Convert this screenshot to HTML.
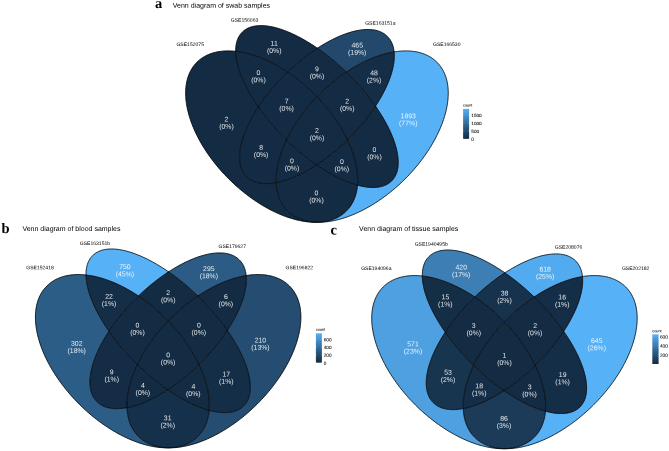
<!DOCTYPE html>
<html><head><meta charset="utf-8"><title>Venn diagrams</title>
<style>
html,body{margin:0;padding:0;background:#fff;}
body{width:669px;height:451px;overflow:hidden;}
svg{display:block;font-family:"Liberation Sans",Arial,sans-serif;text-rendering:geometricPrecision;}
</style></head><body>
<svg width="669" height="451" viewBox="0 0 669 451">
<rect width="669" height="451" fill="#fff"/>
<g>
<path d="M316.57,222.27L314.24,222.27L311.87,222.19L309.47,222.02L307.02,221.77L304.54,221.44L302.03,221.02L299.48,220.52L296.91,219.93L294.31,219.26L291.70,218.51L289.06,217.68L286.40,216.77L283.73,215.79L281.05,214.72L278.36,213.57L275.67,212.35L272.96,211.06L270.26,209.69L267.56,208.25L264.86,206.74L262.17,205.16L259.49,203.51L256.82,201.80L254.17,200.02L251.53,198.18L248.92,196.27L246.32,194.31L243.75,192.30L241.21,190.22L238.70,188.10L236.22,185.92L233.77,183.70L231.37,181.43L229.00,179.11L226.67,176.75L224.39,174.35L222.16,171.92L219.97,169.45L217.84,166.95L215.76,164.42L213.73,161.86L211.76,159.27L209.86,156.67L208.01,154.04L206.22,151.40L204.50,148.74L202.85,146.07L201.26,143.39L199.74,140.70L198.30,138.01L196.92,135.32L195.62,132.63L194.40,129.94L193.25,127.26L192.18,124.59L191.18,121.93L190.27,119.29L189.44,116.66L188.68,114.05L188.01,111.47L187.43,108.91L186.92,106.37L186.50,103.87L186.17,101.40L185.91,98.96L185.75,96.56L185.66,94.20L185.67,91.89L185.75,89.61L185.92,87.38L186.18,85.21L186.52,83.08L186.95,81.00L187.45,78.98L188.05,77.02L188.72,75.11L189.48,73.27L190.31,71.49L191.23,69.77L192.23,68.12L193.30,66.53L194.46,65.02L195.68,63.58L196.99,62.20L198.37,60.90L199.82,59.68L201.34,58.53L202.93,57.46L204.58,56.47L206.31,55.56L208.10,54.72L209.95,53.97L211.86,53.30L213.83,52.71L215.86,52.20L217.95,51.78L220.08,51.44L222.27,51.18L224.51,51.01L226.79,50.93L229.12,50.92L231.49,51.01L233.89,51.17L235.70,51.36L235.74,52.80L235.87,54.73L236.08,56.71L236.36,58.73L236.73,60.81L237.18,62.93L237.71,65.09L238.31,67.30L238.99,69.54L239.75,71.82L240.59,74.13L241.50,76.48L242.49,78.85L243.54,81.26L244.68,83.68L245.88,86.13L247.15,88.60L248.49,91.09L249.90,93.60L251.38,96.11L252.92,98.64L254.52,101.17L256.18,103.71L257.91,106.25L258.40,106.95L258.00,107.55L256.46,109.97L254.97,112.39L253.55,114.80L252.19,117.20L250.89,119.59L249.66,121.97L248.49,124.34L247.40,126.68L246.37,129.01L245.41,131.31L244.52,133.59L243.70,135.84L242.96,138.07L242.28,140.26L241.68,142.42L241.16,144.54L240.71,146.63L240.34,148.68L240.04,150.68L239.82,152.65L239.67,154.56L239.60,156.43L239.61,158.25L239.69,160.02L239.85,161.73L240.08,163.40L240.39,165.00L240.78,166.55L241.24,168.04L241.78,169.46L242.39,170.83L243.07,172.13L243.83,173.37L244.66,174.54L245.56,175.65L246.53,176.68L247.57,177.65L248.68,178.55L249.85,179.37L251.09,180.12L252.40,180.81L253.77,181.41L255.21,181.95L256.70,182.41L258.25,182.79L259.87,183.10L261.53,183.33L263.26,183.49L265.03,183.58L266.86,183.58L268.73,183.51L270.66,183.37L272.63,183.14L274.64,182.85L276.25,182.55L276.29,183.58L276.46,185.81L276.72,187.99L277.06,190.12L277.49,192.19L277.99,194.21L278.59,196.18L279.26,198.08L280.02,199.93L280.85,201.71L281.77,203.43L282.77,205.08L283.84,206.66L285.00,208.18L286.22,209.62L287.53,210.99L288.91,212.29L290.36,213.52L291.88,214.66L293.47,215.73L295.12,216.73L296.85,217.64L298.64,218.47L300.49,219.23L302.40,219.90L304.37,220.49L306.40,220.99L308.49,221.42L310.62,221.76L312.81,222.01L315.05,222.18L316.95,222.26Z" fill="#132B43" stroke="#132B43" stroke-width="0.25" stroke-linejoin="round"/>
<path d="M235.69,50.92L235.72,49.10L235.83,47.34L236.02,45.64L236.29,43.99L236.64,42.41L237.07,40.89L237.58,39.44L238.17,38.05L238.84,36.73L239.58,35.47L240.40,34.29L241.29,33.18L242.26,32.14L243.30,31.18L244.42,30.29L245.60,29.47L246.86,28.73L248.19,28.07L249.58,27.49L251.04,26.98L252.57,26.55L254.15,26.20L255.81,25.93L257.52,25.74L259.29,25.63L261.11,25.60L263.00,25.65L264.93,25.78L266.92,25.99L268.95,26.27L271.04,26.64L273.17,27.09L275.34,27.61L277.55,28.21L279.80,28.89L282.09,29.65L284.41,30.48L286.77,31.39L289.15,32.37L291.57,33.42L294.00,34.55L296.46,35.75L298.94,37.02L301.44,38.35L303.96,39.76L306.48,41.22L309.02,42.76L311.56,44.36L314.11,46.01L316.66,47.73L317.37,48.22L315.54,49.42L313.11,51.07L310.69,52.78L308.27,54.54L305.86,56.35L303.46,58.21L301.07,60.12L298.70,62.08L296.35,64.07L294.02,66.11L291.71,68.19L289.42,70.31L287.56,72.09L286.54,71.40L283.87,69.69L281.19,68.04L278.50,66.46L275.80,64.95L273.10,63.51L270.40,62.14L267.69,60.84L265.00,59.62L262.31,58.48L259.63,57.41L256.96,56.42L254.30,55.51L251.66,54.68L249.05,53.93L246.45,53.27L243.88,52.68L241.33,52.18L238.82,51.76L236.34,51.42L235.70,51.36Z" fill="#132C44" stroke="#132C44" stroke-width="0.25" stroke-linejoin="round"/>
<path d="M317.97,47.82L320.40,46.29L322.83,44.81L325.25,43.39L327.66,42.03L330.06,40.74L332.45,39.51L334.82,38.35L337.18,37.26L339.51,36.24L341.82,35.28L344.11,34.39L346.37,33.58L348.61,32.84L350.81,32.17L352.98,31.57L355.11,31.05L357.20,30.60L359.26,30.23L361.27,29.93L363.24,29.71L365.17,29.56L367.04,29.49L368.87,29.50L370.64,29.58L372.37,29.74L374.03,29.97L375.65,30.28L377.20,30.67L378.69,31.13L380.13,31.66L381.50,32.27L382.81,32.95L384.05,33.71L385.22,34.53L386.33,35.43L387.37,36.39L388.34,37.43L389.24,38.53L390.07,39.71L390.83,40.94L391.51,42.25L392.12,43.61L392.66,45.04L393.12,46.53L393.51,48.07L393.82,49.68L394.05,51.34L394.11,51.92L392.57,52.18L390.02,52.68L387.45,53.27L384.86,53.93L382.24,54.68L379.60,55.51L376.94,56.42L374.27,57.41L371.59,58.48L368.90,59.62L366.21,60.84L363.50,62.14L360.80,63.51L358.10,64.95L355.40,66.46L352.71,68.04L350.03,69.69L347.36,71.40L346.34,72.09L344.21,70.05L341.79,67.79L339.35,65.58L336.88,63.41L334.40,61.28L331.90,59.19L329.38,57.16L326.85,55.17L324.31,53.23L321.77,51.34L319.22,49.51L317.37,48.22Z" fill="#22496B" stroke="#22496B" stroke-width="0.25" stroke-linejoin="round"/>
<path d="M395.08,51.76L397.56,51.42L400.01,51.17L402.41,51.01L404.78,50.92L407.11,50.93L409.39,51.01L411.63,51.18L413.82,51.44L415.95,51.78L418.04,52.20L420.07,52.71L422.04,53.30L423.95,53.97L425.80,54.72L427.59,55.56L429.32,56.47L430.97,57.46L432.56,58.53L434.08,59.68L435.53,60.90L436.91,62.20L438.22,63.58L439.44,65.02L440.60,66.53L441.67,68.12L442.67,69.77L443.59,71.49L444.42,73.27L445.18,75.11L445.85,77.02L446.45,78.98L446.95,81.00L447.38,83.08L447.72,85.21L447.98,87.38L448.15,89.61L448.23,91.89L448.24,94.20L448.15,96.56L447.99,98.96L447.73,101.40L447.40,103.87L446.98,106.37L446.47,108.91L445.89,111.47L445.21,114.05L444.46,116.66L443.63,119.29L442.72,121.93L441.72,124.59L440.65,127.26L439.50,129.94L438.28,132.63L436.98,135.32L435.60,138.01L434.16,140.70L432.64,143.39L431.05,146.07L429.40,148.74L427.68,151.40L425.89,154.04L424.04,156.67L422.14,159.27L420.17,161.86L418.14,164.42L416.06,166.95L413.93,169.45L411.74,171.92L409.51,174.35L407.23,176.75L404.90,179.11L402.53,181.43L400.13,183.70L397.68,185.92L395.20,188.10L392.69,190.22L390.15,192.30L387.58,194.31L384.98,196.27L382.37,198.18L379.73,200.02L377.08,201.80L374.41,203.51L371.73,205.16L369.04,206.74L366.34,208.25L363.64,209.69L360.94,211.06L358.23,212.35L355.54,213.57L352.85,214.72L350.17,215.79L347.50,216.77L344.84,217.68L342.20,218.51L339.58,219.26L336.99,219.93L334.42,220.52L331.87,221.02L329.36,221.44L326.88,221.77L324.43,222.02L322.03,222.19L319.66,222.27L317.33,222.27L316.95,222.26L318.85,222.18L321.09,222.01L323.28,221.76L325.41,221.42L327.50,220.99L329.53,220.49L331.50,219.90L333.41,219.23L335.26,218.47L337.05,217.64L338.78,216.73L340.43,215.73L342.02,214.66L343.54,213.52L344.99,212.29L346.37,210.99L347.68,209.62L348.90,208.18L350.06,206.66L351.13,205.08L352.13,203.43L353.05,201.71L353.88,199.93L354.64,198.08L355.31,196.18L355.91,194.21L356.41,192.19L356.84,190.12L357.18,187.99L357.44,185.81L357.49,185.17L358.56,185.47L360.73,185.99L362.86,186.44L364.95,186.80L366.98,187.09L368.97,187.30L370.90,187.43L372.79,187.48L374.61,187.45L376.38,187.33L378.09,187.14L379.75,186.87L381.33,186.52L382.86,186.10L384.32,185.59L385.71,185.00L387.04,184.34L388.30,183.60L389.48,182.79L390.60,181.90L391.64,180.93L392.61,179.89L393.50,178.78L394.32,177.60L395.06,176.35L395.73,175.03L396.32,173.64L396.83,172.19L397.26,170.67L397.61,169.08L397.88,167.44L398.07,165.73L398.18,163.97L398.21,162.15L398.16,160.28L398.03,158.35L397.82,156.37L397.54,154.34L397.17,152.27L396.72,150.15L396.19,147.98L395.59,145.78L394.91,143.54L394.15,141.26L393.31,138.94L392.40,136.60L391.41,134.22L390.36,131.82L389.22,129.39L388.02,126.94L386.75,124.47L385.41,121.98L384.00,119.48L382.52,116.96L380.98,114.44L379.38,111.90L377.72,109.36L375.99,106.82L375.50,106.12L375.90,105.52L377.44,103.10L378.93,100.69L380.35,98.28L381.71,95.87L383.01,93.48L384.24,91.10L385.41,88.74L386.50,86.39L387.53,84.07L388.49,81.76L389.38,79.48L390.20,77.23L390.94,75.01L391.62,72.81L392.22,70.66L392.74,68.53L393.19,66.44L393.56,64.40L393.86,62.39L394.08,60.43L394.23,58.51L394.30,56.65L394.29,54.83L394.21,53.06L394.11,51.92Z" fill="#56B1F7" stroke="#56B1F7" stroke-width="0.25" stroke-linejoin="round"/>
<path d="M238.82,51.76L241.33,52.18L243.88,52.68L246.45,53.27L249.05,53.93L251.66,54.68L254.30,55.51L256.96,56.42L259.63,57.41L262.31,58.48L265.00,59.62L267.69,60.84L270.40,62.14L273.10,63.51L275.80,64.95L278.50,66.46L281.19,68.04L283.87,69.69L286.54,71.40L287.56,72.09L287.17,72.47L284.94,74.65L282.74,76.87L280.58,79.12L278.45,81.40L276.37,83.70L274.32,86.02L272.31,88.36L270.35,90.72L268.43,93.10L266.56,95.49L264.74,97.89L262.98,100.30L261.26,102.72L259.60,105.13L258.40,106.95L257.91,106.25L256.18,103.71L254.52,101.17L252.92,98.64L251.38,96.11L249.90,93.60L248.49,91.09L247.15,88.60L245.88,86.13L244.68,83.68L243.54,81.26L242.49,78.85L241.50,76.48L240.59,74.13L239.75,71.82L238.99,69.54L238.31,67.30L237.71,65.09L237.18,62.93L236.73,60.81L236.36,58.73L236.08,56.71L235.87,54.73L235.74,52.80L235.70,51.36L236.34,51.42Z" fill="#132B43" stroke="#132B43" stroke-width="0.25" stroke-linejoin="round"/>
<path d="M274.64,182.85L272.63,183.14L270.66,183.37L268.73,183.51L266.86,183.58L265.03,183.58L263.26,183.49L261.53,183.33L259.87,183.10L258.25,182.79L256.70,182.41L255.21,181.95L253.77,181.41L252.40,180.81L251.09,180.12L249.85,179.37L248.68,178.55L247.57,177.65L246.53,176.68L245.56,175.65L244.66,174.54L243.83,173.37L243.07,172.13L242.39,170.83L241.78,169.46L241.24,168.04L240.78,166.55L240.39,165.00L240.08,163.40L239.85,161.73L239.69,160.02L239.61,158.25L239.60,156.43L239.67,154.56L239.82,152.65L240.04,150.68L240.34,148.68L240.71,146.63L241.16,144.54L241.68,142.42L242.28,140.26L242.96,138.07L243.70,135.84L244.52,133.59L245.41,131.31L246.37,129.01L247.40,126.68L248.49,124.34L249.66,121.97L250.89,119.59L252.19,117.20L253.55,114.80L254.97,112.39L256.46,109.97L258.00,107.55L258.40,106.95L259.69,108.80L261.53,111.34L263.42,113.87L265.37,116.40L267.37,118.92L269.42,121.42L271.51,123.92L273.65,126.39L275.83,128.85L278.05,131.28L280.31,133.69L282.61,136.07L284.94,138.42L286.47,139.93L286.16,140.57L284.94,143.25L283.79,145.93L282.72,148.60L281.72,151.26L280.81,153.91L279.98,156.54L279.22,159.14L278.55,161.73L277.97,164.29L277.46,166.82L277.04,169.33L276.71,171.80L276.45,174.23L276.29,176.63L276.20,178.99L276.21,181.31L276.25,182.55Z" fill="#132B44" stroke="#132B44" stroke-width="0.25" stroke-linejoin="round"/>
<path d="M357.44,185.81L357.18,187.99L356.84,190.12L356.41,192.19L355.91,194.21L355.31,196.18L354.64,198.08L353.88,199.93L353.05,201.71L352.13,203.43L351.13,205.08L350.06,206.66L348.90,208.18L347.68,209.62L346.37,210.99L344.99,212.29L343.54,213.52L342.02,214.66L340.43,215.73L338.78,216.73L337.05,217.64L335.26,218.47L333.41,219.23L331.50,219.90L329.53,220.49L327.50,220.99L325.41,221.42L323.28,221.76L321.09,222.01L318.85,222.18L316.95,222.26L315.05,222.18L312.81,222.01L310.62,221.76L308.49,221.42L306.40,220.99L304.37,220.49L302.40,219.90L300.49,219.23L298.64,218.47L296.85,217.64L295.12,216.73L293.47,215.73L291.88,214.66L290.36,213.52L288.91,212.29L287.53,210.99L286.22,209.62L285.00,208.18L283.84,206.66L282.77,205.08L281.77,203.43L280.85,201.71L280.02,199.93L279.26,198.08L278.59,196.18L277.99,194.21L277.49,192.19L277.06,190.12L276.72,187.99L276.46,185.81L276.29,183.58L276.25,182.55L276.70,182.47L278.79,182.03L280.92,181.50L283.09,180.91L285.29,180.24L287.53,179.50L289.79,178.68L292.08,177.80L294.39,176.84L296.72,175.82L299.08,174.72L301.45,173.56L303.84,172.33L306.24,171.04L308.65,169.69L311.07,168.27L313.50,166.79L315.93,165.25L316.53,164.86L317.24,165.34L319.79,167.06L322.34,168.72L324.88,170.32L327.42,171.85L329.94,173.32L332.46,174.72L334.96,176.06L337.44,177.33L339.90,178.53L342.33,179.65L344.75,180.71L347.13,181.69L349.49,182.60L351.81,183.43L354.10,184.18L356.35,184.86L357.49,185.17Z" fill="#132B43" stroke="#132B43" stroke-width="0.25" stroke-linejoin="round"/>
<path d="M289.42,70.31L291.71,68.19L294.02,66.11L296.35,64.07L298.70,62.08L301.07,60.12L303.46,58.21L305.86,56.35L308.27,54.54L310.69,52.78L313.11,51.07L315.54,49.42L317.37,48.22L319.22,49.51L321.77,51.34L324.31,53.23L326.85,55.17L329.38,57.16L331.90,59.19L334.40,61.28L336.88,63.41L339.35,65.58L341.79,67.79L344.21,70.05L346.34,72.09L344.71,73.18L342.07,75.02L339.46,76.92L336.86,78.88L334.29,80.90L331.75,82.97L329.24,85.10L326.76,87.27L324.31,89.50L321.91,91.77L319.54,94.09L317.21,96.44L316.95,96.72L316.69,96.44L314.36,94.09L311.99,91.77L309.59,89.50L307.14,87.27L304.66,85.10L302.15,82.97L299.61,80.90L297.04,78.88L294.44,76.92L291.83,75.02L289.19,73.18L287.56,72.09Z" fill="#132C44" stroke="#132C44" stroke-width="0.25" stroke-linejoin="round"/>
<path d="M375.99,106.82L377.72,109.36L379.38,111.90L380.98,114.44L382.52,116.96L384.00,119.48L385.41,121.98L386.75,124.47L388.02,126.94L389.22,129.39L390.36,131.82L391.41,134.22L392.40,136.60L393.31,138.94L394.15,141.26L394.91,143.54L395.59,145.78L396.19,147.98L396.72,150.15L397.17,152.27L397.54,154.34L397.82,156.37L398.03,158.35L398.16,160.28L398.21,162.15L398.18,163.97L398.07,165.73L397.88,167.44L397.61,169.08L397.26,170.67L396.83,172.19L396.32,173.64L395.73,175.03L395.06,176.35L394.32,177.60L393.50,178.78L392.61,179.89L391.64,180.93L390.60,181.90L389.48,182.79L388.30,183.60L387.04,184.34L385.71,185.00L384.32,185.59L382.86,186.10L381.33,186.52L379.75,186.87L378.09,187.14L376.38,187.33L374.61,187.45L372.79,187.48L370.90,187.43L368.97,187.30L366.98,187.09L364.95,186.80L362.86,186.44L360.73,185.99L358.56,185.47L357.49,185.17L357.61,183.58L357.69,181.31L357.70,178.99L357.61,176.63L357.45,174.23L357.19,171.80L356.86,169.33L356.44,166.82L355.93,164.29L355.35,161.73L354.68,159.14L353.92,156.54L353.09,153.91L352.18,151.26L351.18,148.60L350.11,145.93L348.96,143.25L347.74,140.57L347.43,139.93L348.96,138.42L351.16,136.20L353.32,133.95L355.45,131.68L357.53,129.38L359.58,127.06L361.59,124.71L363.55,122.35L365.47,119.98L367.34,117.59L369.16,115.19L370.92,112.78L372.64,110.36L374.30,107.94L375.50,106.12Z" fill="#132B43" stroke="#132B43" stroke-width="0.25" stroke-linejoin="round"/>
<path d="M394.29,54.83L394.30,56.65L394.23,58.51L394.08,60.43L393.86,62.39L393.56,64.40L393.19,66.44L392.74,68.53L392.22,70.66L391.62,72.81L390.94,75.01L390.20,77.23L389.38,79.48L388.49,81.76L387.53,84.07L386.50,86.39L385.41,88.74L384.24,91.10L383.01,93.48L381.71,95.87L380.35,98.28L378.93,100.69L377.44,103.10L375.90,105.52L375.50,106.12L374.21,104.28L372.37,101.74L370.48,99.20L368.53,96.68L366.53,94.16L364.48,91.65L362.39,89.16L360.25,86.68L358.07,84.23L355.85,81.80L353.59,79.39L351.29,77.01L348.96,74.65L346.60,72.33L346.34,72.09L347.36,71.40L350.03,69.69L352.71,68.04L355.40,66.46L358.10,64.95L360.80,63.51L363.50,62.14L366.21,60.84L368.90,59.62L371.59,58.48L374.27,57.41L376.94,56.42L379.60,55.51L382.24,54.68L384.86,53.93L387.45,53.27L390.02,52.68L392.57,52.18L394.11,51.92L394.21,53.06Z" fill="#152E47" stroke="#152E47" stroke-width="0.25" stroke-linejoin="round"/>
<path d="M291.83,75.02L294.44,76.92L297.04,78.88L299.61,80.90L302.15,82.97L304.66,85.10L307.14,87.27L309.59,89.50L311.99,91.77L314.36,94.09L316.69,96.44L316.95,96.72L314.93,98.84L312.70,101.28L310.51,103.75L308.38,106.25L306.30,108.78L304.27,111.34L302.30,113.92L300.40,116.53L298.55,119.16L296.76,121.80L295.04,124.46L293.39,127.13L291.80,129.81L290.28,132.49L288.84,135.19L287.46,137.88L286.47,139.93L284.94,138.42L282.61,136.07L280.31,133.69L278.05,131.28L275.83,128.85L273.65,126.39L271.51,123.92L269.42,121.42L267.37,118.92L265.37,116.40L263.42,113.87L261.53,111.34L259.69,108.80L258.40,106.95L259.60,105.13L261.26,102.72L262.98,100.30L264.74,97.89L266.56,95.49L268.43,93.10L270.35,90.72L272.31,88.36L274.32,86.02L276.37,83.70L278.45,81.40L280.58,79.12L282.74,76.87L284.94,74.65L287.17,72.47L287.56,72.09L289.19,73.18Z" fill="#132B44" stroke="#132B44" stroke-width="0.25" stroke-linejoin="round"/>
<path d="M347.74,140.57L348.96,143.25L350.11,145.93L351.18,148.60L352.18,151.26L353.09,153.91L353.92,156.54L354.68,159.14L355.35,161.73L355.93,164.29L356.44,166.82L356.86,169.33L357.19,171.80L357.45,174.23L357.61,176.63L357.70,178.99L357.69,181.31L357.61,183.58L357.49,185.17L356.35,184.86L354.10,184.18L351.81,183.43L349.49,182.60L347.13,181.69L344.75,180.71L342.33,179.65L339.90,178.53L337.44,177.33L334.96,176.06L332.46,174.72L329.94,173.32L327.42,171.85L324.88,170.32L322.34,168.72L319.79,167.06L317.24,165.34L316.53,164.86L318.36,163.66L320.79,162.00L323.21,160.30L325.63,158.54L328.04,156.72L330.44,154.86L332.83,152.95L335.20,151.00L337.55,149.00L339.88,146.96L342.19,144.88L344.48,142.76L346.73,140.61L347.43,139.93Z" fill="#132B43" stroke="#132B43" stroke-width="0.25" stroke-linejoin="round"/>
<path d="M315.93,165.25L313.50,166.79L311.07,168.27L308.65,169.69L306.24,171.04L303.84,172.33L301.45,173.56L299.08,174.72L296.72,175.82L294.39,176.84L292.08,177.80L289.79,178.68L287.53,179.50L285.29,180.24L283.09,180.91L280.92,181.50L278.79,182.03L276.70,182.47L276.25,182.55L276.21,181.31L276.20,178.99L276.29,176.63L276.45,174.23L276.71,171.80L277.04,169.33L277.46,166.82L277.97,164.29L278.55,161.73L279.22,159.14L279.98,156.54L280.81,153.91L281.72,151.26L282.72,148.60L283.79,145.93L284.94,143.25L286.16,140.57L286.47,139.93L287.30,140.74L289.69,143.03L292.11,145.28L294.55,147.49L297.02,149.67L299.50,151.80L302.00,153.88L304.52,155.92L307.05,157.91L309.59,159.85L312.13,161.74L314.68,163.57L316.53,164.86Z" fill="#132B43" stroke="#132B43" stroke-width="0.25" stroke-linejoin="round"/>
<path d="M317.21,96.44L319.54,94.09L321.91,91.77L324.31,89.50L326.76,87.27L329.24,85.10L331.75,82.97L334.29,80.90L336.86,78.88L339.46,76.92L342.07,75.02L344.71,73.18L346.34,72.09L346.60,72.33L348.96,74.65L351.29,77.01L353.59,79.39L355.85,81.80L358.07,84.23L360.25,86.68L362.39,89.16L364.48,91.65L366.53,94.16L368.53,96.68L370.48,99.20L372.37,101.74L374.21,104.28L375.50,106.12L374.30,107.94L372.64,110.36L370.92,112.78L369.16,115.19L367.34,117.59L365.47,119.98L363.55,122.35L361.59,124.71L359.58,127.06L357.53,129.38L355.45,131.68L353.32,133.95L351.16,136.20L348.96,138.42L347.43,139.93L346.44,137.88L345.06,135.19L343.62,132.49L342.10,129.81L340.51,127.13L338.86,124.46L337.14,121.80L335.35,119.16L333.50,116.53L331.60,113.92L329.63,111.34L327.60,108.78L325.52,106.25L323.39,103.75L321.20,101.28L318.97,98.84L316.95,96.72Z" fill="#132B43" stroke="#132B43" stroke-width="0.25" stroke-linejoin="round"/>
<path d="M318.97,98.84L321.20,101.28L323.39,103.75L325.52,106.25L327.60,108.78L329.63,111.34L331.60,113.92L333.50,116.53L335.35,119.16L337.14,121.80L338.86,124.46L340.51,127.13L342.10,129.81L343.62,132.49L345.06,135.19L346.44,137.88L347.43,139.93L346.73,140.61L344.48,142.76L342.19,144.88L339.88,146.96L337.55,149.00L335.20,151.00L332.83,152.95L330.44,154.86L328.04,156.72L325.63,158.54L323.21,160.30L320.79,162.00L318.36,163.66L316.53,164.86L314.68,163.57L312.13,161.74L309.59,159.85L307.05,157.91L304.52,155.92L302.00,153.88L299.50,151.80L297.02,149.67L294.55,147.49L292.11,145.28L289.69,143.03L287.30,140.74L286.47,139.93L287.46,137.88L288.84,135.19L290.28,132.49L291.80,129.81L293.39,127.13L295.04,124.46L296.76,121.80L298.55,119.16L300.40,116.53L302.30,113.92L304.27,111.34L306.30,108.78L308.38,106.25L310.51,103.75L312.70,101.28L314.93,98.84L316.95,96.72Z" fill="#132B43" stroke="#132B43" stroke-width="0.25" stroke-linejoin="round"/>
<path d="M196.99,62.20L195.68,63.58L194.46,65.02L193.30,66.53L192.23,68.12L191.23,69.77L190.31,71.49L189.48,73.27L188.72,75.11L188.05,77.02L187.45,78.98L186.95,81.00L186.52,83.08L186.18,85.21L185.92,87.38L185.75,89.61L185.67,91.89L185.66,94.20L185.75,96.56L185.91,98.96L186.17,101.40L186.50,103.87L186.92,106.37L187.43,108.91L188.01,111.47L188.68,114.05L189.44,116.66L190.27,119.29L191.18,121.93L192.18,124.59L193.25,127.26L194.40,129.94L195.62,132.63L196.92,135.32L198.30,138.01L199.74,140.70L201.26,143.39L202.85,146.07L204.50,148.74L206.22,151.40L208.01,154.04L209.86,156.67L211.76,159.27L213.73,161.86L215.76,164.42L217.84,166.95L219.97,169.45L222.16,171.92L224.39,174.35L226.67,176.75L229.00,179.11L231.37,181.43L233.77,183.70L236.22,185.92L238.70,188.10L241.21,190.22L243.75,192.30L246.32,194.31L248.92,196.27L251.53,198.18L254.17,200.02L256.82,201.80L259.49,203.51L262.17,205.16L264.86,206.74L267.56,208.25L270.26,209.69L272.96,211.06L275.67,212.35L278.36,213.57L281.05,214.72L283.73,215.79L286.40,216.77L289.06,217.68L291.70,218.51L294.31,219.26L296.91,219.93L299.48,220.52L302.03,221.02L304.54,221.44L307.02,221.77L309.47,222.02L311.87,222.19L314.24,222.27L316.57,222.27L318.85,222.18L321.09,222.01L323.28,221.76L325.41,221.42L327.50,220.99L329.53,220.49L331.50,219.90L333.41,219.23L335.26,218.47L337.05,217.64L338.78,216.73L340.43,215.73L342.02,214.66L343.54,213.52L344.99,212.29L346.37,210.99L347.68,209.62L348.90,208.18L350.06,206.66L351.13,205.08L352.13,203.43L353.05,201.71L353.88,199.93L354.64,198.08L355.31,196.18L355.91,194.21L356.41,192.19L356.84,190.12L357.18,187.99L357.44,185.81L357.61,183.58L357.69,181.31L357.70,178.99L357.61,176.63L357.45,174.23L357.19,171.80L356.86,169.33L356.44,166.82L355.93,164.29L355.35,161.73L354.68,159.14L353.92,156.54L353.09,153.91L352.18,151.26L351.18,148.60L350.11,145.93L348.96,143.25L347.74,140.57L346.44,137.88L345.06,135.19L343.62,132.49L342.10,129.81L340.51,127.13L338.86,124.46L337.14,121.80L335.35,119.16L333.50,116.53L331.60,113.92L329.63,111.34L327.60,108.78L325.52,106.25L323.39,103.75L321.20,101.28L318.97,98.84L316.69,96.44L314.36,94.09L311.99,91.77L309.59,89.50L307.14,87.27L304.66,85.10L302.15,82.97L299.61,80.90L297.04,78.88L294.44,76.92L291.83,75.02L289.19,73.18L286.54,71.40L283.87,69.69L281.19,68.04L278.50,66.46L275.80,64.95L273.10,63.51L270.40,62.14L267.69,60.84L265.00,59.62L262.31,58.48L259.63,57.41L256.96,56.42L254.30,55.51L251.66,54.68L249.05,53.93L246.45,53.27L243.88,52.68L241.33,52.18L238.82,51.76L236.34,51.42L233.89,51.17L231.49,51.01L229.12,50.92L226.79,50.93L224.51,51.01L222.27,51.18L220.08,51.44L217.95,51.78L215.86,52.20L213.83,52.71L211.86,53.30L209.95,53.97L208.10,54.72L206.31,55.56L204.58,56.47L202.93,57.46L201.34,58.53L199.82,59.68L198.37,60.90Z" fill="none" stroke="#000" stroke-width="0.75" stroke-linejoin="round"/>
<path d="M242.26,32.14L241.29,33.18L240.40,34.29L239.58,35.47L238.84,36.73L238.17,38.05L237.58,39.44L237.07,40.89L236.64,42.41L236.29,43.99L236.02,45.64L235.83,47.34L235.72,49.10L235.69,50.92L235.74,52.80L235.87,54.73L236.08,56.71L236.36,58.73L236.73,60.81L237.18,62.93L237.71,65.09L238.31,67.30L238.99,69.54L239.75,71.82L240.59,74.13L241.50,76.48L242.49,78.85L243.54,81.26L244.68,83.68L245.88,86.13L247.15,88.60L248.49,91.09L249.90,93.60L251.38,96.11L252.92,98.64L254.52,101.17L256.18,103.71L257.91,106.25L259.69,108.80L261.53,111.34L263.42,113.87L265.37,116.40L267.37,118.92L269.42,121.42L271.51,123.92L273.65,126.39L275.83,128.85L278.05,131.28L280.31,133.69L282.61,136.07L284.94,138.42L287.30,140.74L289.69,143.03L292.11,145.28L294.55,147.49L297.02,149.67L299.50,151.80L302.00,153.88L304.52,155.92L307.05,157.91L309.59,159.85L312.13,161.74L314.68,163.57L317.24,165.34L319.79,167.06L322.34,168.72L324.88,170.32L327.42,171.85L329.94,173.32L332.46,174.72L334.96,176.06L337.44,177.33L339.90,178.53L342.33,179.65L344.75,180.71L347.13,181.69L349.49,182.60L351.81,183.43L354.10,184.18L356.35,184.86L358.56,185.47L360.73,185.99L362.86,186.44L364.95,186.80L366.98,187.09L368.97,187.30L370.90,187.43L372.79,187.48L374.61,187.45L376.38,187.33L378.09,187.14L379.75,186.87L381.33,186.52L382.86,186.10L384.32,185.59L385.71,185.00L387.04,184.34L388.30,183.60L389.48,182.79L390.60,181.90L391.64,180.93L392.61,179.89L393.50,178.78L394.32,177.60L395.06,176.35L395.73,175.03L396.32,173.64L396.83,172.19L397.26,170.67L397.61,169.08L397.88,167.44L398.07,165.73L398.18,163.97L398.21,162.15L398.16,160.28L398.03,158.35L397.82,156.37L397.54,154.34L397.17,152.27L396.72,150.15L396.19,147.98L395.59,145.78L394.91,143.54L394.15,141.26L393.31,138.94L392.40,136.60L391.41,134.22L390.36,131.82L389.22,129.39L388.02,126.94L386.75,124.47L385.41,121.98L384.00,119.48L382.52,116.96L380.98,114.44L379.38,111.90L377.72,109.36L375.99,106.82L374.21,104.28L372.37,101.74L370.48,99.20L368.53,96.68L366.53,94.16L364.48,91.65L362.39,89.16L360.25,86.68L358.07,84.23L355.85,81.80L353.59,79.39L351.29,77.01L348.96,74.65L346.60,72.33L344.21,70.05L341.79,67.79L339.35,65.58L336.88,63.41L334.40,61.28L331.90,59.19L329.38,57.16L326.85,55.17L324.31,53.23L321.77,51.34L319.22,49.51L316.66,47.73L314.11,46.01L311.56,44.36L309.02,42.76L306.48,41.22L303.96,39.76L301.44,38.35L298.94,37.02L296.46,35.75L294.00,34.55L291.57,33.42L289.15,32.37L286.77,31.39L284.41,30.48L282.09,29.65L279.80,28.89L277.55,28.21L275.34,27.61L273.17,27.09L271.04,26.64L268.95,26.27L266.92,25.99L264.93,25.78L263.00,25.65L261.11,25.60L259.29,25.63L257.52,25.74L255.81,25.93L254.15,26.20L252.57,26.55L251.04,26.98L249.58,27.49L248.19,28.07L246.86,28.73L245.60,29.47L244.42,30.29L243.30,31.18Z" fill="none" stroke="#000" stroke-width="0.75" stroke-linejoin="round"/>
<path d="M387.37,36.39L386.33,35.43L385.22,34.53L384.05,33.71L382.81,32.95L381.50,32.27L380.13,31.66L378.69,31.13L377.20,30.67L375.65,30.28L374.03,29.97L372.37,29.74L370.64,29.58L368.87,29.50L367.04,29.49L365.17,29.56L363.24,29.71L361.27,29.93L359.26,30.23L357.20,30.60L355.11,31.05L352.98,31.57L350.81,32.17L348.61,32.84L346.37,33.58L344.11,34.39L341.82,35.28L339.51,36.24L337.18,37.26L334.82,38.35L332.45,39.51L330.06,40.74L327.66,42.03L325.25,43.39L322.83,44.81L320.40,46.29L317.97,47.82L315.54,49.42L313.11,51.07L310.69,52.78L308.27,54.54L305.86,56.35L303.46,58.21L301.07,60.12L298.70,62.08L296.35,64.07L294.02,66.11L291.71,68.19L289.42,70.31L287.17,72.47L284.94,74.65L282.74,76.87L280.58,79.12L278.45,81.40L276.37,83.70L274.32,86.02L272.31,88.36L270.35,90.72L268.43,93.10L266.56,95.49L264.74,97.89L262.98,100.30L261.26,102.72L259.60,105.13L258.00,107.55L256.46,109.97L254.97,112.39L253.55,114.80L252.19,117.20L250.89,119.59L249.66,121.97L248.49,124.34L247.40,126.68L246.37,129.01L245.41,131.31L244.52,133.59L243.70,135.84L242.96,138.07L242.28,140.26L241.68,142.42L241.16,144.54L240.71,146.63L240.34,148.68L240.04,150.68L239.82,152.65L239.67,154.56L239.60,156.43L239.61,158.25L239.69,160.02L239.85,161.73L240.08,163.40L240.39,165.00L240.78,166.55L241.24,168.04L241.78,169.46L242.39,170.83L243.07,172.13L243.83,173.37L244.66,174.54L245.56,175.65L246.53,176.68L247.57,177.65L248.68,178.55L249.85,179.37L251.09,180.12L252.40,180.81L253.77,181.41L255.21,181.95L256.70,182.41L258.25,182.79L259.87,183.10L261.53,183.33L263.26,183.49L265.03,183.58L266.86,183.58L268.73,183.51L270.66,183.37L272.63,183.14L274.64,182.85L276.70,182.47L278.79,182.03L280.92,181.50L283.09,180.91L285.29,180.24L287.53,179.50L289.79,178.68L292.08,177.80L294.39,176.84L296.72,175.82L299.08,174.72L301.45,173.56L303.84,172.33L306.24,171.04L308.65,169.69L311.07,168.27L313.50,166.79L315.93,165.25L318.36,163.66L320.79,162.00L323.21,160.30L325.63,158.54L328.04,156.72L330.44,154.86L332.83,152.95L335.20,151.00L337.55,149.00L339.88,146.96L342.19,144.88L344.48,142.76L346.73,140.61L348.96,138.42L351.16,136.20L353.32,133.95L355.45,131.68L357.53,129.38L359.58,127.06L361.59,124.71L363.55,122.35L365.47,119.98L367.34,117.59L369.16,115.19L370.92,112.78L372.64,110.36L374.30,107.94L375.90,105.52L377.44,103.10L378.93,100.69L380.35,98.28L381.71,95.87L383.01,93.48L384.24,91.10L385.41,88.74L386.50,86.39L387.53,84.07L388.49,81.76L389.38,79.48L390.20,77.23L390.94,75.01L391.62,72.81L392.22,70.66L392.74,68.53L393.19,66.44L393.56,64.40L393.86,62.39L394.08,60.43L394.23,58.51L394.30,56.65L394.29,54.83L394.21,53.06L394.05,51.34L393.82,49.68L393.51,48.07L393.12,46.53L392.66,45.04L392.12,43.61L391.51,42.25L390.83,40.94L390.07,39.71L389.24,38.53L388.34,37.43Z" fill="none" stroke="#000" stroke-width="0.75" stroke-linejoin="round"/>
<path d="M436.91,62.20L435.53,60.90L434.08,59.68L432.56,58.53L430.97,57.46L429.32,56.47L427.59,55.56L425.80,54.72L423.95,53.97L422.04,53.30L420.07,52.71L418.04,52.20L415.95,51.78L413.82,51.44L411.63,51.18L409.39,51.01L407.11,50.93L404.78,50.92L402.41,51.01L400.01,51.17L397.56,51.42L395.08,51.76L392.57,52.18L390.02,52.68L387.45,53.27L384.86,53.93L382.24,54.68L379.60,55.51L376.94,56.42L374.27,57.41L371.59,58.48L368.90,59.62L366.21,60.84L363.50,62.14L360.80,63.51L358.10,64.95L355.40,66.46L352.71,68.04L350.03,69.69L347.36,71.40L344.71,73.18L342.07,75.02L339.46,76.92L336.86,78.88L334.29,80.90L331.75,82.97L329.24,85.10L326.76,87.27L324.31,89.50L321.91,91.77L319.54,94.09L317.21,96.44L314.93,98.84L312.70,101.28L310.51,103.75L308.38,106.25L306.30,108.78L304.27,111.34L302.30,113.92L300.40,116.53L298.55,119.16L296.76,121.80L295.04,124.46L293.39,127.13L291.80,129.81L290.28,132.49L288.84,135.19L287.46,137.88L286.16,140.57L284.94,143.25L283.79,145.93L282.72,148.60L281.72,151.26L280.81,153.91L279.98,156.54L279.22,159.14L278.55,161.73L277.97,164.29L277.46,166.82L277.04,169.33L276.71,171.80L276.45,174.23L276.29,176.63L276.20,178.99L276.21,181.31L276.29,183.58L276.46,185.81L276.72,187.99L277.06,190.12L277.49,192.19L277.99,194.21L278.59,196.18L279.26,198.08L280.02,199.93L280.85,201.71L281.77,203.43L282.77,205.08L283.84,206.66L285.00,208.18L286.22,209.62L287.53,210.99L288.91,212.29L290.36,213.52L291.88,214.66L293.47,215.73L295.12,216.73L296.85,217.64L298.64,218.47L300.49,219.23L302.40,219.90L304.37,220.49L306.40,220.99L308.49,221.42L310.62,221.76L312.81,222.01L315.05,222.18L317.33,222.27L319.66,222.27L322.03,222.19L324.43,222.02L326.88,221.77L329.36,221.44L331.87,221.02L334.42,220.52L336.99,219.93L339.58,219.26L342.20,218.51L344.84,217.68L347.50,216.77L350.17,215.79L352.85,214.72L355.54,213.57L358.23,212.35L360.94,211.06L363.64,209.69L366.34,208.25L369.04,206.74L371.73,205.16L374.41,203.51L377.08,201.80L379.73,200.02L382.37,198.18L384.98,196.27L387.58,194.31L390.15,192.30L392.69,190.22L395.20,188.10L397.68,185.92L400.13,183.70L402.53,181.43L404.90,179.11L407.23,176.75L409.51,174.35L411.74,171.92L413.93,169.45L416.06,166.95L418.14,164.42L420.17,161.86L422.14,159.27L424.04,156.67L425.89,154.04L427.68,151.40L429.40,148.74L431.05,146.07L432.64,143.39L434.16,140.70L435.60,138.01L436.98,135.32L438.28,132.63L439.50,129.94L440.65,127.26L441.72,124.59L442.72,121.93L443.63,119.29L444.46,116.66L445.21,114.05L445.89,111.47L446.47,108.91L446.98,106.37L447.40,103.87L447.73,101.40L447.99,98.96L448.15,96.56L448.24,94.20L448.23,91.89L448.15,89.61L447.98,87.38L447.72,85.21L447.38,83.08L446.95,81.00L446.45,78.98L445.85,77.02L445.18,75.11L444.42,73.27L443.59,71.49L442.67,69.77L441.67,68.12L440.60,66.53L439.44,65.02L438.22,63.58Z" fill="none" stroke="#000" stroke-width="0.75" stroke-linejoin="round"/>
<g font-size="6.90" fill="#fff" fill-opacity="0.88" text-anchor="middle">
<text x="226.52" y="121.53" transform="rotate(.03 226.52 121.53)">2</text><text x="226.52" y="128.83" transform="rotate(.03 226.52 128.83)">(0%)</text>
<text x="274.20" y="45.68" transform="rotate(.03 274.20 45.68)">11</text><text x="274.20" y="52.98" transform="rotate(.03 274.20 52.98)">(0%)</text>
<text x="357.22" y="47.54" transform="rotate(.03 357.22 47.54)">465</text><text x="357.22" y="54.84" transform="rotate(.03 357.22 54.84)">(19%)</text>
<text x="408.26" y="118.28" transform="rotate(.03 408.26 118.28)">1893</text><text x="408.26" y="125.58" transform="rotate(.03 408.26 125.58)">(77%)</text>
<text x="258.53" y="74.96" transform="rotate(.03 258.53 74.96)">0</text><text x="258.53" y="82.26" transform="rotate(.03 258.53 82.26)">(0%)</text>
<text x="261.14" y="149.65" transform="rotate(.03 261.14 149.65)">8</text><text x="261.14" y="156.95" transform="rotate(.03 261.14 156.95)">(0%)</text>
<text x="316.47" y="195.29" transform="rotate(.03 316.47 195.29)">0</text><text x="316.47" y="202.59" transform="rotate(.03 316.47 202.59)">(0%)</text>
<text x="316.99" y="71.24" transform="rotate(.03 316.99 71.24)">9</text><text x="316.99" y="78.54" transform="rotate(.03 316.99 78.54)">(0%)</text>
<text x="374.51" y="151.90" transform="rotate(.03 374.51 151.90)">0</text><text x="374.51" y="159.20" transform="rotate(.03 374.51 159.20)">(0%)</text>
<text x="374.07" y="75.18" transform="rotate(.03 374.07 75.18)">48</text><text x="374.07" y="82.48" transform="rotate(.03 374.07 82.48)">(2%)</text>
<text x="286.62" y="103.50" transform="rotate(.03 286.62 103.50)">7</text><text x="286.62" y="110.80" transform="rotate(.03 286.62 110.80)">(0%)</text>
<text x="341.83" y="164.04" transform="rotate(.03 341.83 164.04)">0</text><text x="341.83" y="171.34" transform="rotate(.03 341.83 171.34)">(0%)</text>
<text x="291.97" y="163.16" transform="rotate(.03 291.97 163.16)">0</text><text x="291.97" y="170.46" transform="rotate(.03 291.97 170.46)">(0%)</text>
<text x="347.28" y="103.44" transform="rotate(.03 347.28 103.44)">2</text><text x="347.28" y="110.74" transform="rotate(.03 347.28 110.74)">(0%)</text>
<text x="316.93" y="132.89" transform="rotate(.03 316.93 132.89)">2</text><text x="316.93" y="140.19" transform="rotate(.03 316.93 140.19)">(0%)</text>
</g>
<g font-size="5.05" fill="#000" text-anchor="middle">
<text x="190.19" y="45.91" transform="rotate(.03 190.19 45.91)">GSE152075</text>
<text x="244.52" y="21.86" transform="rotate(.03 244.52 21.86)">GSE156063</text>
<text x="380.33" y="24.87" transform="rotate(.03 380.33 24.87)">GSE163151a</text>
<text x="446.72" y="45.91" transform="rotate(.03 446.72 45.91)">GSE166530</text>
</g>
<text x="172.80" y="7.80" transform="rotate(.03 172.80 7.80)" font-size="7" fill="#000">Venn diagram of swab samples</text>
<text x="155.00" y="7.90" transform="rotate(.03 155.00 7.90)" font-size="14.5" font-weight="bold" font-family="'Liberation Serif', serif" fill="#000">a</text>
<defs><linearGradient id="lgA" x1="0" y1="0" x2="0" y2="1"><stop offset="0.000" stop-color="#56B1F7"/><stop offset="0.050" stop-color="#52AAED"/><stop offset="0.100" stop-color="#4FA2E3"/><stop offset="0.150" stop-color="#4B9BDA"/><stop offset="0.200" stop-color="#4894D0"/><stop offset="0.250" stop-color="#448DC6"/><stop offset="0.300" stop-color="#4186BD"/><stop offset="0.350" stop-color="#3D7FB4"/><stop offset="0.400" stop-color="#3A78AA"/><stop offset="0.450" stop-color="#3671A1"/><stop offset="0.500" stop-color="#336A98"/><stop offset="0.550" stop-color="#2F638F"/><stop offset="0.600" stop-color="#2C5D86"/><stop offset="0.650" stop-color="#29567D"/><stop offset="0.700" stop-color="#265075"/><stop offset="0.750" stop-color="#22496C"/><stop offset="0.800" stop-color="#1F4364"/><stop offset="0.850" stop-color="#1C3D5B"/><stop offset="0.900" stop-color="#193753"/><stop offset="0.950" stop-color="#16314B"/><stop offset="1.000" stop-color="#132B43"/></linearGradient></defs>
<rect x="463.10" y="108.90" width="6.00" height="30.00" fill="url(#lgA)"/>
<text x="463.10" y="106.60" transform="rotate(.03 463.10 106.60)" font-size="3.8" fill="#000" stroke="#000" stroke-width="0.05">count</text>
<g font-size="4.7" fill="#000" stroke="#000" stroke-width="0.05">
<path d="M463.10,138.90h1.20M467.90,138.90h1.20" stroke="#fff" stroke-opacity="0.7" stroke-width="0.3"/>
<text x="471.30" y="140.85" transform="rotate(.03 471.30 140.85)">0</text>
<path d="M463.10,130.98h1.20M467.90,130.98h1.20" stroke="#fff" stroke-opacity="0.7" stroke-width="0.3"/>
<text x="471.30" y="132.93" transform="rotate(.03 471.30 132.93)">500</text>
<path d="M463.10,123.05h1.20M467.90,123.05h1.20" stroke="#fff" stroke-opacity="0.7" stroke-width="0.3"/>
<text x="471.30" y="125.00" transform="rotate(.03 471.30 125.00)">1000</text>
<path d="M463.10,115.13h1.20M467.90,115.13h1.20" stroke="#fff" stroke-opacity="0.7" stroke-width="0.3"/>
<text x="471.30" y="117.08" transform="rotate(.03 471.30 117.08)">1500</text>
</g>
</g>
<g>
<path d="M167.77,447.80L165.41,447.80L163.02,447.72L160.58,447.55L158.11,447.30L155.60,446.96L153.06,446.53L150.49,446.03L147.89,445.43L145.27,444.76L142.62,444.00L139.95,443.16L137.27,442.24L134.57,441.24L131.86,440.17L129.14,439.01L126.41,437.77L123.68,436.47L120.95,435.08L118.22,433.63L115.49,432.10L112.77,430.50L110.06,428.83L107.37,427.10L104.68,425.30L102.02,423.44L99.37,421.52L96.75,419.54L94.15,417.50L91.58,415.40L89.04,413.25L86.53,411.05L84.06,408.80L81.63,406.51L79.24,404.16L76.89,401.78L74.58,399.36L72.32,396.90L70.11,394.40L67.96,391.87L65.85,389.31L63.80,386.72L61.81,384.11L59.88,381.48L58.02,378.82L56.21,376.15L54.47,373.46L52.80,370.76L51.19,368.05L49.66,365.34L48.20,362.62L46.81,359.89L45.49,357.17L44.26,354.46L43.10,351.75L42.01,349.05L41.01,346.36L40.08,343.69L39.24,341.03L38.48,338.39L37.81,335.78L37.21,333.19L36.70,330.63L36.28,328.10L35.94,325.60L35.68,323.14L35.51,320.71L35.43,318.33L35.43,315.98L35.52,313.68L35.69,311.43L35.95,309.23L36.30,307.08L36.72,304.98L37.24,302.94L37.84,300.95L38.52,299.03L39.28,297.16L40.13,295.36L41.06,293.62L42.06,291.96L43.15,290.35L44.32,288.82L45.56,287.36L46.88,285.98L48.27,284.66L49.73,283.43L51.27,282.26L52.88,281.18L54.56,280.18L56.30,279.25L58.11,278.41L59.98,277.65L61.91,276.97L63.91,276.38L65.96,275.86L68.06,275.44L70.22,275.09L72.43,274.83L74.70,274.66L77.00,274.57L79.36,274.57L81.75,274.66L84.19,274.82L86.01,275.01L86.05,276.47L86.18,278.42L86.39,280.42L86.68,282.47L87.06,284.57L87.51,286.71L88.04,288.90L88.65,291.12L89.34,293.39L90.11,295.70L90.95,298.04L91.88,300.41L92.87,302.81L93.94,305.24L95.08,307.69L96.30,310.17L97.59,312.67L98.94,315.18L100.37,317.71L101.86,320.26L103.42,322.81L105.04,325.37L106.72,327.94L108.46,330.51L108.96,331.22L108.56,331.82L107.00,334.27L105.49,336.71L104.06,339.15L102.68,341.58L101.37,344.00L100.12,346.40L98.94,348.79L97.84,351.16L96.79,353.51L95.82,355.84L94.93,358.15L94.10,360.43L93.35,362.67L92.67,364.89L92.06,367.07L91.53,369.22L91.08,371.33L90.70,373.40L90.40,375.43L90.17,377.41L90.02,379.35L89.95,381.24L89.96,383.08L90.04,384.86L90.20,386.60L90.44,388.28L90.75,389.90L91.15,391.47L91.61,392.97L92.15,394.41L92.77,395.80L93.46,397.11L94.23,398.36L95.06,399.55L95.98,400.66L96.96,401.71L98.01,402.69L99.13,403.59L100.32,404.43L101.57,405.19L102.90,405.88L104.28,406.49L105.73,407.03L107.24,407.50L108.81,407.89L110.44,408.20L112.13,408.44L113.87,408.60L115.66,408.68L117.51,408.69L119.41,408.62L121.35,408.47L123.34,408.24L125.38,407.94L127.01,407.65L127.05,408.69L127.22,410.94L127.48,413.14L127.83,415.30L128.25,417.39L128.77,419.44L129.37,421.42L130.05,423.35L130.81,425.21L131.66,427.01L132.59,428.75L133.59,430.42L134.68,432.02L135.85,433.55L137.09,435.01L138.41,436.40L139.80,437.71L141.26,438.95L142.80,440.11L144.41,441.19L146.09,442.20L147.83,443.12L149.64,443.96L151.51,444.72L153.44,445.40L155.44,446.00L157.49,446.51L159.59,446.94L161.75,447.28L163.96,447.54L166.23,447.71L168.15,447.79Z" fill="#2C5D87" stroke="#2C5D87" stroke-width="0.25" stroke-linejoin="round"/>
<path d="M86.00,274.57L86.03,272.73L86.14,270.95L86.34,269.23L86.61,267.56L86.97,265.96L87.40,264.43L87.92,262.96L88.51,261.55L89.18,260.22L89.93,258.95L90.76,257.76L91.66,256.64L92.64,255.59L93.70,254.61L94.82,253.71L96.02,252.89L97.29,252.14L98.63,251.47L100.04,250.88L101.52,250.37L103.06,249.93L104.67,249.58L106.34,249.31L108.07,249.11L109.86,249.00L111.70,248.97L113.61,249.02L115.56,249.15L117.57,249.36L119.63,249.65L121.74,250.02L123.89,250.47L126.08,251.00L128.32,251.61L130.60,252.30L132.91,253.06L135.26,253.90L137.64,254.82L140.05,255.81L142.49,256.88L144.95,258.02L147.44,259.23L149.95,260.51L152.47,261.86L155.01,263.28L157.57,264.77L160.13,266.32L162.70,267.93L165.28,269.61L167.86,271.34L168.57,271.84L166.73,273.05L164.27,274.72L161.82,276.45L159.37,278.23L156.94,280.06L154.51,281.94L152.10,283.87L149.70,285.85L147.32,287.87L144.97,289.93L142.63,292.03L140.32,294.17L138.44,295.97L137.40,295.27L134.71,293.54L132.00,291.87L129.28,290.28L126.55,288.75L123.82,287.29L121.09,285.91L118.36,284.60L115.63,283.37L112.91,282.21L110.20,281.13L107.50,280.13L104.82,279.21L102.15,278.37L99.50,277.61L96.88,276.94L94.28,276.35L91.71,275.84L89.17,275.42L86.66,275.08L86.01,275.01Z" fill="#56B1F7" stroke="#56B1F7" stroke-width="0.25" stroke-linejoin="round"/>
<path d="M169.18,271.44L171.64,269.88L174.09,268.39L176.54,266.95L178.97,265.58L181.40,264.28L183.82,263.04L186.22,261.86L188.60,260.76L190.96,259.72L193.30,258.76L195.61,257.86L197.90,257.04L200.15,256.29L202.38,255.61L204.57,255.01L206.73,254.48L208.84,254.03L210.92,253.65L212.96,253.35L214.95,253.13L216.89,252.98L218.79,252.91L220.64,252.91L222.43,253.00L224.17,253.16L225.86,253.39L227.49,253.71L229.06,254.10L230.57,254.56L232.02,255.10L233.40,255.71L234.73,256.40L235.98,257.16L237.17,258.00L238.29,258.91L239.34,259.88L240.32,260.93L241.24,262.05L242.07,263.23L242.84,264.48L243.53,265.80L244.15,267.18L244.69,268.62L245.15,270.13L245.55,271.69L245.86,273.31L246.10,274.99L246.15,275.58L244.59,275.84L242.02,276.35L239.42,276.94L236.80,277.61L234.15,278.37L231.48,279.21L228.80,280.13L226.10,281.13L223.39,282.21L220.67,283.37L217.94,284.60L215.21,285.91L212.48,287.29L209.75,288.75L207.02,290.28L204.30,291.87L201.59,293.54L198.90,295.27L197.86,295.97L195.71,293.90L193.26,291.63L190.79,289.39L188.30,287.19L185.79,285.04L183.26,282.93L180.72,280.87L178.16,278.86L175.59,276.90L173.02,274.99L170.44,273.14L168.57,271.84Z" fill="#2C5C85" stroke="#2C5C85" stroke-width="0.25" stroke-linejoin="round"/>
<path d="M247.13,275.42L249.64,275.08L252.11,274.82L254.55,274.66L256.94,274.57L259.30,274.57L261.60,274.66L263.87,274.83L266.08,275.09L268.24,275.44L270.34,275.86L272.39,276.38L274.39,276.97L276.32,277.65L278.19,278.41L280.00,279.25L281.74,280.18L283.42,281.18L285.03,282.26L286.57,283.43L288.03,284.66L289.42,285.98L290.74,287.36L291.98,288.82L293.15,290.35L294.24,291.96L295.24,293.62L296.17,295.36L297.02,297.16L297.78,299.03L298.46,300.95L299.06,302.94L299.58,304.98L300.00,307.08L300.35,309.23L300.61,311.43L300.78,313.68L300.87,315.98L300.87,318.33L300.79,320.71L300.62,323.14L300.36,325.60L300.02,328.10L299.60,330.63L299.09,333.19L298.49,335.78L297.82,338.39L297.06,341.03L296.22,343.69L295.29,346.36L294.29,349.05L293.20,351.75L292.04,354.46L290.81,357.17L289.49,359.89L288.10,362.62L286.64,365.34L285.11,368.05L283.50,370.76L281.83,373.46L280.09,376.15L278.28,378.82L276.42,381.48L274.49,384.11L272.50,386.72L270.45,389.31L268.34,391.87L266.19,394.40L263.98,396.90L261.72,399.36L259.41,401.78L257.06,404.16L254.67,406.51L252.24,408.80L249.77,411.05L247.26,413.25L244.72,415.40L242.15,417.50L239.55,419.54L236.93,421.52L234.28,423.44L231.62,425.30L228.93,427.10L226.24,428.83L223.53,430.50L220.81,432.10L218.08,433.63L215.35,435.08L212.62,436.47L209.89,437.77L207.16,439.01L204.44,440.17L201.73,441.24L199.03,442.24L196.35,443.16L193.68,444.00L191.03,444.76L188.41,445.43L185.81,446.03L183.24,446.53L180.70,446.96L178.19,447.30L175.72,447.55L173.28,447.72L170.89,447.80L168.53,447.80L168.15,447.79L170.07,447.71L172.34,447.54L174.55,447.28L176.71,446.94L178.81,446.51L180.86,446.00L182.86,445.40L184.79,444.72L186.66,443.96L188.47,443.12L190.21,442.20L191.89,441.19L193.50,440.11L195.04,438.95L196.50,437.71L197.89,436.40L199.21,435.01L200.45,433.55L201.62,432.02L202.71,430.42L203.71,428.75L204.64,427.01L205.49,425.21L206.25,423.35L206.93,421.42L207.53,419.44L208.05,417.39L208.47,415.30L208.82,413.14L209.08,410.94L209.13,410.29L210.22,410.59L212.41,411.12L214.56,411.57L216.67,411.94L218.73,412.23L220.74,412.44L222.69,412.57L224.60,412.62L226.44,412.59L228.23,412.48L229.96,412.29L231.63,412.01L233.24,411.66L234.78,411.23L236.26,410.72L237.67,410.12L239.01,409.46L240.28,408.71L241.48,407.88L242.60,406.98L243.66,406.01L244.64,404.96L245.54,403.84L246.37,402.64L247.12,401.38L247.79,400.04L248.38,398.64L248.90,397.17L249.33,395.63L249.69,394.03L249.96,392.37L250.16,390.64L250.27,388.86L250.30,387.02L250.25,385.13L250.12,383.18L249.91,381.18L249.62,379.13L249.24,377.03L248.79,374.89L248.26,372.70L247.65,370.47L246.96,368.20L246.19,365.90L245.35,363.56L244.43,361.19L243.43,358.79L242.36,356.36L241.22,353.90L240.00,351.43L238.71,348.93L237.36,346.41L235.93,343.88L234.44,341.34L232.88,338.78L231.26,336.22L229.58,333.65L227.84,331.08L227.34,330.38L227.74,329.77L229.30,327.32L230.81,324.88L232.24,322.44L233.62,320.02L234.93,317.60L236.18,315.19L237.36,312.80L238.46,310.43L239.51,308.08L240.48,305.75L241.37,303.45L242.20,301.17L242.95,298.92L243.63,296.70L244.24,294.52L244.77,292.37L245.22,290.26L245.60,288.19L245.90,286.17L246.13,284.18L246.28,282.25L246.35,280.36L246.34,278.52L246.26,276.73L246.15,275.58Z" fill="#244D71" stroke="#244D71" stroke-width="0.25" stroke-linejoin="round"/>
<path d="M89.17,275.42L91.71,275.84L94.28,276.35L96.88,276.94L99.50,277.61L102.15,278.37L104.82,279.21L107.50,280.13L110.20,281.13L112.91,282.21L115.63,283.37L118.36,284.60L121.09,285.91L123.82,287.29L126.55,288.75L129.28,290.28L132.00,291.87L134.71,293.54L137.40,295.27L138.44,295.97L138.04,296.35L135.79,298.56L133.57,300.81L131.38,303.08L129.23,305.38L127.12,307.71L125.05,310.05L123.02,312.42L121.04,314.81L119.10,317.21L117.21,319.63L115.37,322.05L113.59,324.49L111.85,326.93L110.18,329.38L108.96,331.22L108.46,330.51L106.72,327.94L105.04,325.37L103.42,322.81L101.86,320.26L100.37,317.71L98.94,315.18L97.59,312.67L96.30,310.17L95.08,307.69L93.94,305.24L92.87,302.81L91.88,300.41L90.95,298.04L90.11,295.70L89.34,293.39L88.65,291.12L88.04,288.90L87.51,286.71L87.06,284.57L86.68,282.47L86.39,280.42L86.18,278.42L86.05,276.47L86.01,275.01L86.66,275.08Z" fill="#152E48" stroke="#152E48" stroke-width="0.25" stroke-linejoin="round"/>
<path d="M125.38,407.94L123.34,408.24L121.35,408.47L119.41,408.62L117.51,408.69L115.66,408.68L113.87,408.60L112.13,408.44L110.44,408.20L108.81,407.89L107.24,407.50L105.73,407.03L104.28,406.49L102.90,405.88L101.57,405.19L100.32,404.43L99.13,403.59L98.01,402.69L96.96,401.71L95.98,400.66L95.06,399.55L94.23,398.36L93.46,397.11L92.77,395.80L92.15,394.41L91.61,392.97L91.15,391.47L90.75,389.90L90.44,388.28L90.20,386.60L90.04,384.86L89.96,383.08L89.95,381.24L90.02,379.35L90.17,377.41L90.40,375.43L90.70,373.40L91.08,371.33L91.53,369.22L92.06,367.07L92.67,364.89L93.35,362.67L94.10,360.43L94.93,358.15L95.82,355.84L96.79,353.51L97.84,351.16L98.94,348.79L100.12,346.40L101.37,344.00L102.68,341.58L104.06,339.15L105.49,336.71L107.00,334.27L108.56,331.82L108.96,331.22L110.27,333.08L112.12,335.65L114.04,338.21L116.01,340.77L118.03,343.31L120.10,345.85L122.21,348.37L124.38,350.87L126.58,353.35L128.83,355.81L131.11,358.24L133.43,360.65L135.79,363.03L137.34,364.55L137.02,365.20L135.79,367.92L134.63,370.63L133.54,373.33L132.54,376.01L131.61,378.69L130.77,381.34L130.01,383.98L129.34,386.59L128.74,389.18L128.23,391.74L127.81,394.27L127.47,396.77L127.21,399.24L127.04,401.66L126.96,404.05L126.96,406.39L127.01,407.65Z" fill="#142C45" stroke="#142C45" stroke-width="0.25" stroke-linejoin="round"/>
<path d="M209.08,410.94L208.82,413.14L208.47,415.30L208.05,417.39L207.53,419.44L206.93,421.42L206.25,423.35L205.49,425.21L204.64,427.01L203.71,428.75L202.71,430.42L201.62,432.02L200.45,433.55L199.21,435.01L197.89,436.40L196.50,437.71L195.04,438.95L193.50,440.11L191.89,441.19L190.21,442.20L188.47,443.12L186.66,443.96L184.79,444.72L182.86,445.40L180.86,446.00L178.81,446.51L176.71,446.94L174.55,447.28L172.34,447.54L170.07,447.71L168.15,447.79L166.23,447.71L163.96,447.54L161.75,447.28L159.59,446.94L157.49,446.51L155.44,446.00L153.44,445.40L151.51,444.72L149.64,443.96L147.83,443.12L146.09,442.20L144.41,441.19L142.80,440.11L141.26,438.95L139.80,437.71L138.41,436.40L137.09,435.01L135.85,433.55L134.68,432.02L133.59,430.42L132.59,428.75L131.66,427.01L130.81,425.21L130.05,423.35L129.37,421.42L128.77,419.44L128.25,417.39L127.83,415.30L127.48,413.14L127.22,410.94L127.05,408.69L127.01,407.65L127.46,407.57L129.57,407.11L131.73,406.59L133.92,405.98L136.15,405.31L138.40,404.56L140.69,403.73L143.00,402.84L145.34,401.87L147.70,400.84L150.08,399.73L152.48,398.56L154.90,397.32L157.33,396.01L159.76,394.64L162.21,393.21L164.66,391.71L167.12,390.16L167.73,389.76L168.44,390.25L171.02,391.99L173.60,393.66L176.17,395.28L178.73,396.83L181.29,398.31L183.83,399.73L186.35,401.08L188.86,402.36L191.35,403.57L193.81,404.71L196.25,405.78L198.66,406.77L201.04,407.69L203.39,408.53L205.70,409.29L207.98,409.98L209.13,410.29Z" fill="#15304A" stroke="#15304A" stroke-width="0.25" stroke-linejoin="round"/>
<path d="M140.32,294.17L142.63,292.03L144.97,289.93L147.32,287.87L149.70,285.85L152.10,283.87L154.51,281.94L156.94,280.06L159.37,278.23L161.82,276.45L164.27,274.72L166.73,273.05L168.57,271.84L170.44,273.14L173.02,274.99L175.59,276.90L178.16,278.86L180.72,280.87L183.26,282.93L185.79,285.04L188.30,287.19L190.79,289.39L193.26,291.63L195.71,293.90L197.86,295.97L196.21,297.07L193.55,298.93L190.90,300.85L188.28,302.84L185.68,304.88L183.11,306.97L180.57,309.12L178.06,311.32L175.59,313.57L173.16,315.87L170.77,318.21L168.42,320.59L168.15,320.87L167.88,320.59L165.53,318.21L163.14,315.87L160.71,313.57L158.24,311.32L155.73,309.12L153.19,306.97L150.62,304.88L148.02,302.84L145.40,300.85L142.75,298.93L140.09,297.07L138.44,295.97Z" fill="#132B43" stroke="#132B43" stroke-width="0.25" stroke-linejoin="round"/>
<path d="M227.84,331.08L229.58,333.65L231.26,336.22L232.88,338.78L234.44,341.34L235.93,343.88L237.36,346.41L238.71,348.93L240.00,351.43L241.22,353.90L242.36,356.36L243.43,358.79L244.43,361.19L245.35,363.56L246.19,365.90L246.96,368.20L247.65,370.47L248.26,372.70L248.79,374.89L249.24,377.03L249.62,379.13L249.91,381.18L250.12,383.18L250.25,385.13L250.30,387.02L250.27,388.86L250.16,390.64L249.96,392.37L249.69,394.03L249.33,395.63L248.90,397.17L248.38,398.64L247.79,400.04L247.12,401.38L246.37,402.64L245.54,403.84L244.64,404.96L243.66,406.01L242.60,406.98L241.48,407.88L240.28,408.71L239.01,409.46L237.67,410.12L236.26,410.72L234.78,411.23L233.24,411.66L231.63,412.01L229.96,412.29L228.23,412.48L226.44,412.59L224.60,412.62L222.69,412.57L220.74,412.44L218.73,412.23L216.67,411.94L214.56,411.57L212.41,411.12L210.22,410.59L209.13,410.29L209.25,408.69L209.34,406.39L209.34,404.05L209.26,401.66L209.09,399.24L208.83,396.77L208.49,394.27L208.07,391.74L207.56,389.18L206.96,386.59L206.29,383.98L205.53,381.34L204.69,378.69L203.76,376.01L202.76,373.33L201.67,370.63L200.51,367.92L199.28,365.20L198.96,364.55L200.51,363.03L202.73,360.79L204.92,358.51L207.07,356.21L209.18,353.89L211.25,351.54L213.28,349.17L215.26,346.78L217.20,344.38L219.09,341.97L220.93,339.54L222.71,337.10L224.45,334.66L226.12,332.22L227.34,330.38Z" fill="#142E47" stroke="#142E47" stroke-width="0.25" stroke-linejoin="round"/>
<path d="M246.34,278.52L246.35,280.36L246.28,282.25L246.13,284.18L245.90,286.17L245.60,288.19L245.22,290.26L244.77,292.37L244.24,294.52L243.63,296.70L242.95,298.92L242.20,301.17L241.37,303.45L240.48,305.75L239.51,308.08L238.46,310.43L237.36,312.80L236.18,315.19L234.93,317.60L233.62,320.02L232.24,322.44L230.81,324.88L229.30,327.32L227.74,329.77L227.34,330.38L226.03,328.51L224.18,325.95L222.26,323.38L220.29,320.83L218.27,318.28L216.20,315.75L214.09,313.23L211.92,310.73L209.72,308.24L207.47,305.78L205.19,303.35L202.87,300.94L200.51,298.56L198.12,296.22L197.86,295.97L198.90,295.27L201.59,293.54L204.30,291.87L207.02,290.28L209.75,288.75L212.48,287.29L215.21,285.91L217.94,284.60L220.67,283.37L223.39,282.21L226.10,281.13L228.80,280.13L231.48,279.21L234.15,278.37L236.80,277.61L239.42,276.94L242.02,276.35L244.59,275.84L246.15,275.58L246.26,276.73Z" fill="#132C44" stroke="#132C44" stroke-width="0.25" stroke-linejoin="round"/>
<path d="M142.75,298.93L145.40,300.85L148.02,302.84L150.62,304.88L153.19,306.97L155.73,309.12L158.24,311.32L160.71,313.57L163.14,315.87L165.53,318.21L167.88,320.59L168.15,320.87L166.11,323.02L163.85,325.48L161.64,327.97L159.49,330.50L157.38,333.06L155.33,335.65L153.34,338.26L151.41,340.90L149.55,343.55L147.74,346.23L146.00,348.91L144.33,351.61L142.72,354.32L141.19,357.04L139.73,359.76L138.34,362.48L137.34,364.55L135.79,363.03L133.43,360.65L131.11,358.24L128.83,355.81L126.58,353.35L124.38,350.87L122.21,348.37L120.10,345.85L118.03,343.31L116.01,340.77L114.04,338.21L112.12,335.65L110.27,333.08L108.96,331.22L110.18,329.38L111.85,326.93L113.59,324.49L115.37,322.05L117.21,319.63L119.10,317.21L121.04,314.81L123.02,312.42L125.05,310.05L127.12,307.71L129.23,305.38L131.38,303.08L133.57,300.81L135.79,298.56L138.04,296.35L138.44,295.97L140.09,297.07Z" fill="#132B43" stroke="#132B43" stroke-width="0.25" stroke-linejoin="round"/>
<path d="M199.28,365.20L200.51,367.92L201.67,370.63L202.76,373.33L203.76,376.01L204.69,378.69L205.53,381.34L206.29,383.98L206.96,386.59L207.56,389.18L208.07,391.74L208.49,394.27L208.83,396.77L209.09,399.24L209.26,401.66L209.34,404.05L209.34,406.39L209.25,408.69L209.13,410.29L207.98,409.98L205.70,409.29L203.39,408.53L201.04,407.69L198.66,406.77L196.25,405.78L193.81,404.71L191.35,403.57L188.86,402.36L186.35,401.08L183.83,399.73L181.29,398.31L178.73,396.83L176.17,395.28L173.60,393.66L171.02,391.99L168.44,390.25L167.73,389.76L169.57,388.54L172.03,386.87L174.48,385.15L176.93,383.37L179.36,381.53L181.79,379.65L184.20,377.72L186.60,375.75L188.98,373.73L191.33,371.66L193.67,369.56L195.98,367.42L198.26,365.24L198.96,364.55Z" fill="#132C44" stroke="#132C44" stroke-width="0.25" stroke-linejoin="round"/>
<path d="M167.12,390.16L164.66,391.71L162.21,393.21L159.76,394.64L157.33,396.01L154.90,397.32L152.48,398.56L150.08,399.73L147.70,400.84L145.34,401.87L143.00,402.84L140.69,403.73L138.40,404.56L136.15,405.31L133.92,405.98L131.73,406.59L129.57,407.11L127.46,407.57L127.01,407.65L126.96,406.39L126.96,404.05L127.04,401.66L127.21,399.24L127.47,396.77L127.81,394.27L128.23,391.74L128.74,389.18L129.34,386.59L130.01,383.98L130.77,381.34L131.61,378.69L132.54,376.01L133.54,373.33L134.63,370.63L135.79,367.92L137.02,365.20L137.34,364.55L138.18,365.38L140.59,367.69L143.04,369.97L145.51,372.20L148.00,374.40L150.51,376.55L153.04,378.66L155.58,380.72L158.14,382.73L160.71,384.69L163.28,386.60L165.86,388.45L167.73,389.76Z" fill="#132C44" stroke="#132C44" stroke-width="0.25" stroke-linejoin="round"/>
<path d="M168.42,320.59L170.77,318.21L173.16,315.87L175.59,313.57L178.06,311.32L180.57,309.12L183.11,306.97L185.68,304.88L188.28,302.84L190.90,300.85L193.55,298.93L196.21,297.07L197.86,295.97L198.12,296.22L200.51,298.56L202.87,300.94L205.19,303.35L207.47,305.78L209.72,308.24L211.92,310.73L214.09,313.23L216.20,315.75L218.27,318.28L220.29,320.83L222.26,323.38L224.18,325.95L226.03,328.51L227.34,330.38L226.12,332.22L224.45,334.66L222.71,337.10L220.93,339.54L219.09,341.97L217.20,344.38L215.26,346.78L213.28,349.17L211.25,351.54L209.18,353.89L207.07,356.21L204.92,358.51L202.73,360.79L200.51,363.03L198.96,364.55L197.96,362.48L196.57,359.76L195.11,357.04L193.58,354.32L191.97,351.61L190.30,348.91L188.56,346.23L186.75,343.55L184.89,340.90L182.96,338.26L180.97,335.65L178.92,333.06L176.81,330.50L174.66,327.97L172.45,325.48L170.19,323.02L168.15,320.87Z" fill="#132B43" stroke="#132B43" stroke-width="0.25" stroke-linejoin="round"/>
<path d="M170.19,323.02L172.45,325.48L174.66,327.97L176.81,330.50L178.92,333.06L180.97,335.65L182.96,338.26L184.89,340.90L186.75,343.55L188.56,346.23L190.30,348.91L191.97,351.61L193.58,354.32L195.11,357.04L196.57,359.76L197.96,362.48L198.96,364.55L198.26,365.24L195.98,367.42L193.67,369.56L191.33,371.66L188.98,373.73L186.60,375.75L184.20,377.72L181.79,379.65L179.36,381.53L176.93,383.37L174.48,385.15L172.03,386.87L169.57,388.54L167.73,389.76L165.86,388.45L163.28,386.60L160.71,384.69L158.14,382.73L155.58,380.72L153.04,378.66L150.51,376.55L148.00,374.40L145.51,372.20L143.04,369.97L140.59,367.69L138.18,365.38L137.34,364.55L138.34,362.48L139.73,359.76L141.19,357.04L142.72,354.32L144.33,351.61L146.00,348.91L147.74,346.23L149.55,343.55L151.41,340.90L153.34,338.26L155.33,335.65L157.38,333.06L159.49,330.50L161.64,327.97L163.85,325.48L166.11,323.02L168.15,320.87Z" fill="#132B43" stroke="#132B43" stroke-width="0.25" stroke-linejoin="round"/>
<path d="M46.88,285.98L45.56,287.36L44.32,288.82L43.15,290.35L42.06,291.96L41.06,293.62L40.13,295.36L39.28,297.16L38.52,299.03L37.84,300.95L37.24,302.94L36.72,304.98L36.30,307.08L35.95,309.23L35.69,311.43L35.52,313.68L35.43,315.98L35.43,318.33L35.51,320.71L35.68,323.14L35.94,325.60L36.28,328.10L36.70,330.63L37.21,333.19L37.81,335.78L38.48,338.39L39.24,341.03L40.08,343.69L41.01,346.36L42.01,349.05L43.10,351.75L44.26,354.46L45.49,357.17L46.81,359.89L48.20,362.62L49.66,365.34L51.19,368.05L52.80,370.76L54.47,373.46L56.21,376.15L58.02,378.82L59.88,381.48L61.81,384.11L63.80,386.72L65.85,389.31L67.96,391.87L70.11,394.40L72.32,396.90L74.58,399.36L76.89,401.78L79.24,404.16L81.63,406.51L84.06,408.80L86.53,411.05L89.04,413.25L91.58,415.40L94.15,417.50L96.75,419.54L99.37,421.52L102.02,423.44L104.68,425.30L107.37,427.10L110.06,428.83L112.77,430.50L115.49,432.10L118.22,433.63L120.95,435.08L123.68,436.47L126.41,437.77L129.14,439.01L131.86,440.17L134.57,441.24L137.27,442.24L139.95,443.16L142.62,444.00L145.27,444.76L147.89,445.43L150.49,446.03L153.06,446.53L155.60,446.96L158.11,447.30L160.58,447.55L163.02,447.72L165.41,447.80L167.77,447.80L170.07,447.71L172.34,447.54L174.55,447.28L176.71,446.94L178.81,446.51L180.86,446.00L182.86,445.40L184.79,444.72L186.66,443.96L188.47,443.12L190.21,442.20L191.89,441.19L193.50,440.11L195.04,438.95L196.50,437.71L197.89,436.40L199.21,435.01L200.45,433.55L201.62,432.02L202.71,430.42L203.71,428.75L204.64,427.01L205.49,425.21L206.25,423.35L206.93,421.42L207.53,419.44L208.05,417.39L208.47,415.30L208.82,413.14L209.08,410.94L209.25,408.69L209.34,406.39L209.34,404.05L209.26,401.66L209.09,399.24L208.83,396.77L208.49,394.27L208.07,391.74L207.56,389.18L206.96,386.59L206.29,383.98L205.53,381.34L204.69,378.69L203.76,376.01L202.76,373.33L201.67,370.63L200.51,367.92L199.28,365.20L197.96,362.48L196.57,359.76L195.11,357.04L193.58,354.32L191.97,351.61L190.30,348.91L188.56,346.23L186.75,343.55L184.89,340.90L182.96,338.26L180.97,335.65L178.92,333.06L176.81,330.50L174.66,327.97L172.45,325.48L170.19,323.02L167.88,320.59L165.53,318.21L163.14,315.87L160.71,313.57L158.24,311.32L155.73,309.12L153.19,306.97L150.62,304.88L148.02,302.84L145.40,300.85L142.75,298.93L140.09,297.07L137.40,295.27L134.71,293.54L132.00,291.87L129.28,290.28L126.55,288.75L123.82,287.29L121.09,285.91L118.36,284.60L115.63,283.37L112.91,282.21L110.20,281.13L107.50,280.13L104.82,279.21L102.15,278.37L99.50,277.61L96.88,276.94L94.28,276.35L91.71,275.84L89.17,275.42L86.66,275.08L84.19,274.82L81.75,274.66L79.36,274.57L77.00,274.57L74.70,274.66L72.43,274.83L70.22,275.09L68.06,275.44L65.96,275.86L63.91,276.38L61.91,276.97L59.98,277.65L58.11,278.41L56.30,279.25L54.56,280.18L52.88,281.18L51.27,282.26L49.73,283.43L48.27,284.66Z" fill="none" stroke="#000" stroke-width="0.75" stroke-linejoin="round"/>
<path d="M92.64,255.59L91.66,256.64L90.76,257.76L89.93,258.95L89.18,260.22L88.51,261.55L87.92,262.96L87.40,264.43L86.97,265.96L86.61,267.56L86.34,269.23L86.14,270.95L86.03,272.73L86.00,274.57L86.05,276.47L86.18,278.42L86.39,280.42L86.68,282.47L87.06,284.57L87.51,286.71L88.04,288.90L88.65,291.12L89.34,293.39L90.11,295.70L90.95,298.04L91.88,300.41L92.87,302.81L93.94,305.24L95.08,307.69L96.30,310.17L97.59,312.67L98.94,315.18L100.37,317.71L101.86,320.26L103.42,322.81L105.04,325.37L106.72,327.94L108.46,330.51L110.27,333.08L112.12,335.65L114.04,338.21L116.01,340.77L118.03,343.31L120.10,345.85L122.21,348.37L124.38,350.87L126.58,353.35L128.83,355.81L131.11,358.24L133.43,360.65L135.79,363.03L138.18,365.38L140.59,367.69L143.04,369.97L145.51,372.20L148.00,374.40L150.51,376.55L153.04,378.66L155.58,380.72L158.14,382.73L160.71,384.69L163.28,386.60L165.86,388.45L168.44,390.25L171.02,391.99L173.60,393.66L176.17,395.28L178.73,396.83L181.29,398.31L183.83,399.73L186.35,401.08L188.86,402.36L191.35,403.57L193.81,404.71L196.25,405.78L198.66,406.77L201.04,407.69L203.39,408.53L205.70,409.29L207.98,409.98L210.22,410.59L212.41,411.12L214.56,411.57L216.67,411.94L218.73,412.23L220.74,412.44L222.69,412.57L224.60,412.62L226.44,412.59L228.23,412.48L229.96,412.29L231.63,412.01L233.24,411.66L234.78,411.23L236.26,410.72L237.67,410.12L239.01,409.46L240.28,408.71L241.48,407.88L242.60,406.98L243.66,406.01L244.64,404.96L245.54,403.84L246.37,402.64L247.12,401.38L247.79,400.04L248.38,398.64L248.90,397.17L249.33,395.63L249.69,394.03L249.96,392.37L250.16,390.64L250.27,388.86L250.30,387.02L250.25,385.13L250.12,383.18L249.91,381.18L249.62,379.13L249.24,377.03L248.79,374.89L248.26,372.70L247.65,370.47L246.96,368.20L246.19,365.90L245.35,363.56L244.43,361.19L243.43,358.79L242.36,356.36L241.22,353.90L240.00,351.43L238.71,348.93L237.36,346.41L235.93,343.88L234.44,341.34L232.88,338.78L231.26,336.22L229.58,333.65L227.84,331.08L226.03,328.51L224.18,325.95L222.26,323.38L220.29,320.83L218.27,318.28L216.20,315.75L214.09,313.23L211.92,310.73L209.72,308.24L207.47,305.78L205.19,303.35L202.87,300.94L200.51,298.56L198.12,296.22L195.71,293.90L193.26,291.63L190.79,289.39L188.30,287.19L185.79,285.04L183.26,282.93L180.72,280.87L178.16,278.86L175.59,276.90L173.02,274.99L170.44,273.14L167.86,271.34L165.28,269.61L162.70,267.93L160.13,266.32L157.57,264.77L155.01,263.28L152.47,261.86L149.95,260.51L147.44,259.23L144.95,258.02L142.49,256.88L140.05,255.81L137.64,254.82L135.26,253.90L132.91,253.06L130.60,252.30L128.32,251.61L126.08,251.00L123.89,250.47L121.74,250.02L119.63,249.65L117.57,249.36L115.56,249.15L113.61,249.02L111.70,248.97L109.86,249.00L108.07,249.11L106.34,249.31L104.67,249.58L103.06,249.93L101.52,250.37L100.04,250.88L98.63,251.47L97.29,252.14L96.02,252.89L94.82,253.71L93.70,254.61Z" fill="none" stroke="#000" stroke-width="0.75" stroke-linejoin="round"/>
<path d="M239.34,259.88L238.29,258.91L237.17,258.00L235.98,257.16L234.73,256.40L233.40,255.71L232.02,255.10L230.57,254.56L229.06,254.10L227.49,253.71L225.86,253.39L224.17,253.16L222.43,253.00L220.64,252.91L218.79,252.91L216.89,252.98L214.95,253.13L212.96,253.35L210.92,253.65L208.84,254.03L206.73,254.48L204.57,255.01L202.38,255.61L200.15,256.29L197.90,257.04L195.61,257.86L193.30,258.76L190.96,259.72L188.60,260.76L186.22,261.86L183.82,263.04L181.40,264.28L178.97,265.58L176.54,266.95L174.09,268.39L171.64,269.88L169.18,271.44L166.73,273.05L164.27,274.72L161.82,276.45L159.37,278.23L156.94,280.06L154.51,281.94L152.10,283.87L149.70,285.85L147.32,287.87L144.97,289.93L142.63,292.03L140.32,294.17L138.04,296.35L135.79,298.56L133.57,300.81L131.38,303.08L129.23,305.38L127.12,307.71L125.05,310.05L123.02,312.42L121.04,314.81L119.10,317.21L117.21,319.63L115.37,322.05L113.59,324.49L111.85,326.93L110.18,329.38L108.56,331.82L107.00,334.27L105.49,336.71L104.06,339.15L102.68,341.58L101.37,344.00L100.12,346.40L98.94,348.79L97.84,351.16L96.79,353.51L95.82,355.84L94.93,358.15L94.10,360.43L93.35,362.67L92.67,364.89L92.06,367.07L91.53,369.22L91.08,371.33L90.70,373.40L90.40,375.43L90.17,377.41L90.02,379.35L89.95,381.24L89.96,383.08L90.04,384.86L90.20,386.60L90.44,388.28L90.75,389.90L91.15,391.47L91.61,392.97L92.15,394.41L92.77,395.80L93.46,397.11L94.23,398.36L95.06,399.55L95.98,400.66L96.96,401.71L98.01,402.69L99.13,403.59L100.32,404.43L101.57,405.19L102.90,405.88L104.28,406.49L105.73,407.03L107.24,407.50L108.81,407.89L110.44,408.20L112.13,408.44L113.87,408.60L115.66,408.68L117.51,408.69L119.41,408.62L121.35,408.47L123.34,408.24L125.38,407.94L127.46,407.57L129.57,407.11L131.73,406.59L133.92,405.98L136.15,405.31L138.40,404.56L140.69,403.73L143.00,402.84L145.34,401.87L147.70,400.84L150.08,399.73L152.48,398.56L154.90,397.32L157.33,396.01L159.76,394.64L162.21,393.21L164.66,391.71L167.12,390.16L169.57,388.54L172.03,386.87L174.48,385.15L176.93,383.37L179.36,381.53L181.79,379.65L184.20,377.72L186.60,375.75L188.98,373.73L191.33,371.66L193.67,369.56L195.98,367.42L198.26,365.24L200.51,363.03L202.73,360.79L204.92,358.51L207.07,356.21L209.18,353.89L211.25,351.54L213.28,349.17L215.26,346.78L217.20,344.38L219.09,341.97L220.93,339.54L222.71,337.10L224.45,334.66L226.12,332.22L227.74,329.77L229.30,327.32L230.81,324.88L232.24,322.44L233.62,320.02L234.93,317.60L236.18,315.19L237.36,312.80L238.46,310.43L239.51,308.08L240.48,305.75L241.37,303.45L242.20,301.17L242.95,298.92L243.63,296.70L244.24,294.52L244.77,292.37L245.22,290.26L245.60,288.19L245.90,286.17L246.13,284.18L246.28,282.25L246.35,280.36L246.34,278.52L246.26,276.73L246.10,274.99L245.86,273.31L245.55,271.69L245.15,270.13L244.69,268.62L244.15,267.18L243.53,265.80L242.84,264.48L242.07,263.23L241.24,262.05L240.32,260.93Z" fill="none" stroke="#000" stroke-width="0.75" stroke-linejoin="round"/>
<path d="M289.42,285.98L288.03,284.66L286.57,283.43L285.03,282.26L283.42,281.18L281.74,280.18L280.00,279.25L278.19,278.41L276.32,277.65L274.39,276.97L272.39,276.38L270.34,275.86L268.24,275.44L266.08,275.09L263.87,274.83L261.60,274.66L259.30,274.57L256.94,274.57L254.55,274.66L252.11,274.82L249.64,275.08L247.13,275.42L244.59,275.84L242.02,276.35L239.42,276.94L236.80,277.61L234.15,278.37L231.48,279.21L228.80,280.13L226.10,281.13L223.39,282.21L220.67,283.37L217.94,284.60L215.21,285.91L212.48,287.29L209.75,288.75L207.02,290.28L204.30,291.87L201.59,293.54L198.90,295.27L196.21,297.07L193.55,298.93L190.90,300.85L188.28,302.84L185.68,304.88L183.11,306.97L180.57,309.12L178.06,311.32L175.59,313.57L173.16,315.87L170.77,318.21L168.42,320.59L166.11,323.02L163.85,325.48L161.64,327.97L159.49,330.50L157.38,333.06L155.33,335.65L153.34,338.26L151.41,340.90L149.55,343.55L147.74,346.23L146.00,348.91L144.33,351.61L142.72,354.32L141.19,357.04L139.73,359.76L138.34,362.48L137.02,365.20L135.79,367.92L134.63,370.63L133.54,373.33L132.54,376.01L131.61,378.69L130.77,381.34L130.01,383.98L129.34,386.59L128.74,389.18L128.23,391.74L127.81,394.27L127.47,396.77L127.21,399.24L127.04,401.66L126.96,404.05L126.96,406.39L127.05,408.69L127.22,410.94L127.48,413.14L127.83,415.30L128.25,417.39L128.77,419.44L129.37,421.42L130.05,423.35L130.81,425.21L131.66,427.01L132.59,428.75L133.59,430.42L134.68,432.02L135.85,433.55L137.09,435.01L138.41,436.40L139.80,437.71L141.26,438.95L142.80,440.11L144.41,441.19L146.09,442.20L147.83,443.12L149.64,443.96L151.51,444.72L153.44,445.40L155.44,446.00L157.49,446.51L159.59,446.94L161.75,447.28L163.96,447.54L166.23,447.71L168.53,447.80L170.89,447.80L173.28,447.72L175.72,447.55L178.19,447.30L180.70,446.96L183.24,446.53L185.81,446.03L188.41,445.43L191.03,444.76L193.68,444.00L196.35,443.16L199.03,442.24L201.73,441.24L204.44,440.17L207.16,439.01L209.89,437.77L212.62,436.47L215.35,435.08L218.08,433.63L220.81,432.10L223.53,430.50L226.24,428.83L228.93,427.10L231.62,425.30L234.28,423.44L236.93,421.52L239.55,419.54L242.15,417.50L244.72,415.40L247.26,413.25L249.77,411.05L252.24,408.80L254.67,406.51L257.06,404.16L259.41,401.78L261.72,399.36L263.98,396.90L266.19,394.40L268.34,391.87L270.45,389.31L272.50,386.72L274.49,384.11L276.42,381.48L278.28,378.82L280.09,376.15L281.83,373.46L283.50,370.76L285.11,368.05L286.64,365.34L288.10,362.62L289.49,359.89L290.81,357.17L292.04,354.46L293.20,351.75L294.29,349.05L295.29,346.36L296.22,343.69L297.06,341.03L297.82,338.39L298.49,335.78L299.09,333.19L299.60,330.63L300.02,328.10L300.36,325.60L300.62,323.14L300.79,320.71L300.87,318.33L300.87,315.98L300.78,313.68L300.61,311.43L300.35,309.23L300.00,307.08L299.58,304.98L299.06,302.94L298.46,300.95L297.78,299.03L297.02,297.16L296.17,295.36L295.24,293.62L294.24,291.96L293.15,290.35L291.98,288.82L290.74,287.36Z" fill="none" stroke="#000" stroke-width="0.75" stroke-linejoin="round"/>
<g font-size="6.90" fill="#fff" fill-opacity="0.88" text-anchor="middle">
<text x="76.73" y="345.75" transform="rotate(.03 76.73 345.75)">302</text><text x="76.73" y="353.05" transform="rotate(.03 76.73 353.05)">(18%)</text>
<text x="124.93" y="269.08" transform="rotate(.03 124.93 269.08)">750</text><text x="124.93" y="276.38" transform="rotate(.03 124.93 276.38)">(45%)</text>
<text x="208.86" y="270.96" transform="rotate(.03 208.86 270.96)">295</text><text x="208.86" y="278.26" transform="rotate(.03 208.86 278.26)">(18%)</text>
<text x="260.46" y="342.47" transform="rotate(.03 260.46 342.47)">210</text><text x="260.46" y="349.77" transform="rotate(.03 260.46 349.77)">(13%)</text>
<text x="109.09" y="298.67" transform="rotate(.03 109.09 298.67)">22</text><text x="109.09" y="305.97" transform="rotate(.03 109.09 305.97)">(1%)</text>
<text x="111.73" y="374.18" transform="rotate(.03 111.73 374.18)">9</text><text x="111.73" y="381.48" transform="rotate(.03 111.73 381.48)">(1%)</text>
<text x="167.67" y="420.33" transform="rotate(.03 167.67 420.33)">31</text><text x="167.67" y="427.63" transform="rotate(.03 167.67 427.63)">(2%)</text>
<text x="168.19" y="294.91" transform="rotate(.03 168.19 294.91)">2</text><text x="168.19" y="302.21" transform="rotate(.03 168.19 302.21)">(0%)</text>
<text x="226.34" y="376.46" transform="rotate(.03 226.34 376.46)">17</text><text x="226.34" y="383.76" transform="rotate(.03 226.34 383.76)">(1%)</text>
<text x="225.90" y="298.90" transform="rotate(.03 225.90 298.90)">6</text><text x="225.90" y="306.20" transform="rotate(.03 225.90 306.20)">(0%)</text>
<text x="137.49" y="327.52" transform="rotate(.03 137.49 327.52)">0</text><text x="137.49" y="334.82" transform="rotate(.03 137.49 334.82)">(0%)</text>
<text x="193.30" y="388.73" transform="rotate(.03 193.30 388.73)">4</text><text x="193.30" y="396.03" transform="rotate(.03 193.30 396.03)">(0%)</text>
<text x="142.90" y="387.84" transform="rotate(.03 142.90 387.84)">4</text><text x="142.90" y="395.14" transform="rotate(.03 142.90 395.14)">(0%)</text>
<text x="198.81" y="327.47" transform="rotate(.03 198.81 327.47)">0</text><text x="198.81" y="334.77" transform="rotate(.03 198.81 334.77)">(0%)</text>
<text x="168.13" y="357.24" transform="rotate(.03 168.13 357.24)">0</text><text x="168.13" y="364.54" transform="rotate(.03 168.13 364.54)">(0%)</text>
</g>
<g font-size="5.05" fill="#000" text-anchor="middle">
<text x="40.01" y="269.28" transform="rotate(.03 40.01 269.28)">GSE152418</text>
<text x="94.93" y="244.97" transform="rotate(.03 94.93 244.97)">GSE163151b</text>
<text x="232.22" y="248.01" transform="rotate(.03 232.22 248.01)">GSE179627</text>
<text x="299.34" y="269.28" transform="rotate(.03 299.34 269.28)">GSE196822</text>
</g>
<text x="22.40" y="230.90" transform="rotate(.03 22.40 230.90)" font-size="7" fill="#000">Venn diagram of blood samples</text>
<text x="1.60" y="232.90" transform="rotate(.03 1.60 232.90)" font-size="14.5" font-weight="bold" font-family="'Liberation Serif', serif" fill="#000">b</text>
<defs><linearGradient id="lgB" x1="0" y1="0" x2="0" y2="1"><stop offset="0.000" stop-color="#56B1F7"/><stop offset="0.050" stop-color="#52AAED"/><stop offset="0.100" stop-color="#4FA2E3"/><stop offset="0.150" stop-color="#4B9BDA"/><stop offset="0.200" stop-color="#4894D0"/><stop offset="0.250" stop-color="#448DC6"/><stop offset="0.300" stop-color="#4186BD"/><stop offset="0.350" stop-color="#3D7FB4"/><stop offset="0.400" stop-color="#3A78AA"/><stop offset="0.450" stop-color="#3671A1"/><stop offset="0.500" stop-color="#336A98"/><stop offset="0.550" stop-color="#2F638F"/><stop offset="0.600" stop-color="#2C5D86"/><stop offset="0.650" stop-color="#29567D"/><stop offset="0.700" stop-color="#265075"/><stop offset="0.750" stop-color="#22496C"/><stop offset="0.800" stop-color="#1F4364"/><stop offset="0.850" stop-color="#1C3D5B"/><stop offset="0.900" stop-color="#193753"/><stop offset="0.950" stop-color="#16314B"/><stop offset="1.000" stop-color="#132B43"/></linearGradient></defs>
<rect x="315.90" y="333.30" width="6.00" height="29.40" fill="url(#lgB)"/>
<text x="315.90" y="330.70" transform="rotate(.03 315.90 330.70)" font-size="3.8" fill="#000" stroke="#000" stroke-width="0.05">count</text>
<g font-size="4.7" fill="#000" stroke="#000" stroke-width="0.05">
<path d="M315.90,362.70h1.20M320.70,362.70h1.20" stroke="#fff" stroke-opacity="0.7" stroke-width="0.3"/>
<text x="323.75" y="364.65" transform="rotate(.03 323.75 364.65)">0</text>
<path d="M315.90,354.86h1.20M320.70,354.86h1.20" stroke="#fff" stroke-opacity="0.7" stroke-width="0.3"/>
<text x="323.75" y="356.81" transform="rotate(.03 323.75 356.81)">200</text>
<path d="M315.90,347.02h1.20M320.70,347.02h1.20" stroke="#fff" stroke-opacity="0.7" stroke-width="0.3"/>
<text x="323.75" y="348.97" transform="rotate(.03 323.75 348.97)">400</text>
<path d="M315.90,339.18h1.20M320.70,339.18h1.20" stroke="#fff" stroke-opacity="0.7" stroke-width="0.3"/>
<text x="323.75" y="341.13" transform="rotate(.03 323.75 341.13)">600</text>
</g>
</g>
<g>
<path d="M504.07,448.70L501.71,448.70L499.32,448.62L496.88,448.45L494.41,448.19L491.90,447.85L489.36,447.43L486.79,446.92L484.19,446.33L481.57,445.66L478.92,444.90L476.25,444.06L473.57,443.14L470.87,442.15L468.16,441.07L465.44,439.91L462.71,438.68L459.98,437.37L457.25,435.99L454.52,434.53L451.79,433.01L449.07,431.41L446.36,429.74L443.67,428.01L440.98,426.21L438.32,424.35L435.67,422.43L433.05,420.45L430.45,418.41L427.88,416.32L425.34,414.17L422.83,411.97L420.36,409.73L417.93,407.43L415.54,405.09L413.19,402.71L410.88,400.29L408.62,397.83L406.41,395.33L404.26,392.80L402.15,390.25L400.10,387.66L398.11,385.05L396.18,382.42L394.32,379.76L392.51,377.09L390.77,374.41L389.10,371.71L387.49,369.00L385.96,366.29L384.50,363.57L383.11,360.85L381.79,358.13L380.56,355.42L379.40,352.71L378.31,350.01L377.31,347.32L376.38,344.65L375.54,342.00L374.78,339.36L374.11,336.75L373.51,334.16L373.00,331.60L372.58,329.08L372.24,326.58L371.98,324.12L371.81,321.69L371.73,319.31L371.73,316.97L371.82,314.67L371.99,312.42L372.25,310.22L372.60,308.07L373.02,305.97L373.54,303.93L374.14,301.95L374.82,300.02L375.58,298.16L376.43,296.36L377.36,294.62L378.36,292.95L379.45,291.35L380.62,289.82L381.86,288.37L383.18,286.98L384.57,285.67L386.03,284.43L387.57,283.27L389.18,282.19L390.86,281.19L392.60,280.26L394.41,279.42L396.28,278.66L398.21,277.98L400.21,277.39L402.26,276.87L404.36,276.45L406.52,276.10L408.73,275.85L411.00,275.67L413.30,275.58L415.66,275.58L418.05,275.67L420.49,275.83L422.31,276.02L422.35,277.48L422.48,279.43L422.69,281.42L422.98,283.47L423.36,285.57L423.81,287.71L424.34,289.90L424.95,292.12L425.64,294.39L426.41,296.69L427.25,299.03L428.17,301.40L429.17,303.80L430.24,306.23L431.38,308.68L432.60,311.16L433.89,313.65L435.24,316.17L436.67,318.69L438.16,321.24L439.72,323.79L441.34,326.35L443.02,328.92L444.76,331.48L445.26,332.19L444.86,332.80L443.30,335.24L441.79,337.68L440.36,340.12L438.98,342.55L437.67,344.96L436.42,347.37L435.24,349.75L434.14,352.12L433.09,354.47L432.12,356.80L431.23,359.10L430.40,361.38L429.65,363.63L428.97,365.84L428.36,368.02L427.83,370.17L427.38,372.28L427.00,374.35L426.70,376.37L426.47,378.35L426.32,380.29L426.25,382.18L426.26,384.02L426.34,385.80L426.50,387.54L426.74,389.22L427.05,390.84L427.45,392.40L427.91,393.90L428.45,395.35L429.07,396.73L429.76,398.04L430.53,399.29L431.36,400.48L432.28,401.59L433.26,402.64L434.31,403.61L435.43,404.52L436.62,405.35L437.87,406.12L439.20,406.80L440.58,407.42L442.03,407.96L443.54,408.42L445.11,408.81L446.74,409.12L448.43,409.36L450.17,409.52L451.96,409.60L453.81,409.61L455.71,409.54L457.65,409.39L459.64,409.17L461.68,408.87L463.31,408.57L463.35,409.61L463.52,411.86L463.78,414.06L464.13,416.21L464.55,418.31L465.07,420.35L465.67,422.34L466.35,424.26L467.11,426.12L467.96,427.92L468.89,429.66L469.89,431.33L470.98,432.93L472.15,434.46L473.39,435.92L474.71,437.30L476.10,438.61L477.56,439.85L479.10,441.01L480.71,442.09L482.39,443.10L484.13,444.02L485.94,444.86L487.81,445.62L489.74,446.30L491.74,446.90L493.79,447.41L495.89,447.84L498.05,448.18L500.26,448.44L502.53,448.61L504.45,448.68Z" fill="#4EA0E0" stroke="#4EA0E0" stroke-width="0.25" stroke-linejoin="round"/>
<path d="M422.30,275.58L422.33,273.75L422.44,271.96L422.64,270.24L422.91,268.58L423.27,266.98L423.70,265.45L424.22,263.98L424.81,262.57L425.48,261.24L426.23,259.97L427.06,258.78L427.96,257.66L428.94,256.61L430.00,255.63L431.12,254.73L432.32,253.91L433.59,253.16L434.93,252.50L436.34,251.90L437.82,251.39L439.36,250.96L440.97,250.61L442.64,250.33L444.37,250.14L446.16,250.03L448.00,250.00L449.91,250.05L451.86,250.18L453.87,250.39L455.93,250.68L458.04,251.05L460.19,251.50L462.38,252.03L464.62,252.64L466.90,253.32L469.21,254.09L471.56,254.93L473.94,255.85L476.35,256.84L478.79,257.90L481.25,259.04L483.74,260.25L486.25,261.53L488.77,262.88L491.31,264.30L493.87,265.78L496.43,267.33L499.00,268.95L501.58,270.62L504.16,272.36L504.87,272.85L503.03,274.06L500.57,275.73L498.12,277.46L495.67,279.24L493.24,281.07L490.81,282.95L488.40,284.88L486.00,286.85L483.62,288.87L481.27,290.93L478.93,293.03L476.62,295.17L474.74,296.97L473.70,296.27L471.01,294.54L468.30,292.87L465.58,291.28L462.85,289.75L460.12,288.29L457.39,286.91L454.66,285.60L451.93,284.37L449.21,283.21L446.50,282.14L443.80,281.14L441.12,280.22L438.45,279.38L435.80,278.62L433.18,277.95L430.58,277.36L428.01,276.85L425.47,276.43L422.96,276.09L422.31,276.02Z" fill="#3D7FB4" stroke="#3D7FB4" stroke-width="0.25" stroke-linejoin="round"/>
<path d="M505.48,272.45L507.94,270.90L510.39,269.40L512.84,267.97L515.27,266.60L517.70,265.30L520.12,264.06L522.52,262.88L524.90,261.78L527.26,260.74L529.60,259.78L531.91,258.88L534.20,258.06L536.45,257.31L538.68,256.63L540.87,256.03L543.03,255.50L545.14,255.05L547.22,254.68L549.26,254.38L551.25,254.15L553.19,254.00L555.09,253.93L556.94,253.94L558.73,254.02L560.47,254.18L562.16,254.42L563.79,254.73L565.36,255.12L566.87,255.58L568.32,256.12L569.70,256.74L571.03,257.43L572.28,258.19L573.47,259.02L574.59,259.93L575.64,260.90L576.62,261.95L577.54,263.07L578.37,264.25L579.14,265.50L579.83,266.82L580.45,268.20L580.99,269.64L581.45,271.14L581.85,272.70L582.16,274.33L582.40,276.01L582.45,276.59L580.89,276.85L578.32,277.36L575.72,277.95L573.10,278.62L570.45,279.38L567.78,280.22L565.10,281.14L562.40,282.14L559.69,283.21L556.97,284.37L554.24,285.60L551.51,286.91L548.78,288.29L546.05,289.75L543.32,291.28L540.60,292.87L537.89,294.54L535.20,296.27L534.16,296.96L532.01,294.90L529.56,292.63L527.09,290.39L524.60,288.20L522.09,286.05L519.56,283.94L517.02,281.88L514.46,279.87L511.89,277.91L509.32,276.00L506.74,274.15L504.87,272.85Z" fill="#53ABEF" stroke="#53ABEF" stroke-width="0.25" stroke-linejoin="round"/>
<path d="M583.43,276.43L585.94,276.09L588.41,275.83L590.85,275.67L593.24,275.58L595.60,275.58L597.90,275.67L600.17,275.85L602.38,276.10L604.54,276.45L606.64,276.87L608.69,277.39L610.69,277.98L612.62,278.66L614.49,279.42L616.30,280.26L618.04,281.19L619.72,282.19L621.33,283.27L622.87,284.43L624.33,285.67L625.72,286.98L627.04,288.37L628.28,289.82L629.45,291.35L630.54,292.95L631.54,294.62L632.47,296.36L633.32,298.16L634.08,300.02L634.76,301.95L635.36,303.93L635.88,305.97L636.30,308.07L636.65,310.22L636.91,312.42L637.08,314.67L637.17,316.97L637.17,319.31L637.09,321.69L636.92,324.12L636.66,326.58L636.32,329.08L635.90,331.60L635.39,334.16L634.79,336.75L634.12,339.36L633.36,342.00L632.52,344.65L631.59,347.32L630.59,350.01L629.50,352.71L628.34,355.42L627.11,358.13L625.79,360.85L624.40,363.57L622.94,366.29L621.41,369.00L619.80,371.71L618.13,374.41L616.39,377.09L614.58,379.76L612.72,382.42L610.79,385.05L608.80,387.66L606.75,390.25L604.64,392.80L602.49,395.33L600.28,397.83L598.02,400.29L595.71,402.71L593.36,405.09L590.97,407.43L588.54,409.73L586.07,411.97L583.56,414.17L581.02,416.32L578.45,418.41L575.85,420.45L573.23,422.43L570.58,424.35L567.92,426.21L565.23,428.01L562.54,429.74L559.83,431.41L557.11,433.01L554.38,434.53L551.65,435.99L548.92,437.37L546.19,438.68L543.46,439.91L540.74,441.07L538.03,442.15L535.33,443.14L532.65,444.06L529.98,444.90L527.33,445.66L524.71,446.33L522.11,446.92L519.54,447.43L517.00,447.85L514.49,448.19L512.02,448.45L509.58,448.62L507.19,448.70L504.83,448.70L504.45,448.68L506.37,448.61L508.64,448.44L510.85,448.18L513.01,447.84L515.11,447.41L517.16,446.90L519.16,446.30L521.09,445.62L522.96,444.86L524.77,444.02L526.51,443.10L528.19,442.09L529.80,441.01L531.34,439.85L532.80,438.61L534.19,437.30L535.51,435.92L536.75,434.46L537.92,432.93L539.01,431.33L540.01,429.66L540.94,427.92L541.79,426.12L542.55,424.26L543.23,422.34L543.83,420.35L544.35,418.31L544.77,416.21L545.12,414.06L545.38,411.86L545.43,411.22L546.52,411.51L548.71,412.04L550.86,412.49L552.97,412.86L555.03,413.15L557.04,413.36L558.99,413.49L560.90,413.54L562.74,413.51L564.53,413.40L566.26,413.21L567.93,412.94L569.54,412.58L571.08,412.15L572.56,411.64L573.97,411.05L575.31,410.38L576.58,409.63L577.78,408.81L578.90,407.91L579.96,406.93L580.94,405.88L581.84,404.76L582.67,403.57L583.42,402.30L584.09,400.97L584.68,399.57L585.20,398.10L585.63,396.56L585.99,394.96L586.26,393.30L586.46,391.58L586.57,389.80L586.60,387.96L586.55,386.06L586.42,384.12L586.21,382.12L585.92,380.07L585.54,377.97L585.09,375.83L584.56,373.64L583.95,371.42L583.26,369.15L582.49,366.85L581.65,364.51L580.73,362.14L579.73,359.74L578.66,357.31L577.52,354.86L576.30,352.39L575.01,349.89L573.66,347.38L572.23,344.85L570.74,342.31L569.18,339.75L567.56,337.19L565.88,334.63L564.14,332.06L563.64,331.35L564.04,330.74L565.60,328.30L567.11,325.86L568.54,323.42L569.92,321.00L571.23,318.58L572.48,316.18L573.66,313.79L574.76,311.42L575.81,309.07L576.78,306.74L577.67,304.44L578.50,302.16L579.25,299.92L579.93,297.70L580.54,295.52L581.07,293.37L581.52,291.26L581.90,289.20L582.20,287.17L582.43,285.19L582.58,283.25L582.65,281.36L582.64,279.53L582.56,277.74L582.45,276.59Z" fill="#56B1F7" stroke="#56B1F7" stroke-width="0.25" stroke-linejoin="round"/>
<path d="M425.47,276.43L428.01,276.85L430.58,277.36L433.18,277.95L435.80,278.62L438.45,279.38L441.12,280.22L443.80,281.14L446.50,282.14L449.21,283.21L451.93,284.37L454.66,285.60L457.39,286.91L460.12,288.29L462.85,289.75L465.58,291.28L468.30,292.87L471.01,294.54L473.70,296.27L474.74,296.97L474.34,297.35L472.09,299.56L469.87,301.80L467.68,304.07L465.53,306.37L463.42,308.69L461.35,311.04L459.32,313.41L457.34,315.79L455.40,318.19L453.51,320.61L451.67,323.03L449.89,325.47L448.15,327.91L446.48,330.35L445.26,332.19L444.76,331.48L443.02,328.92L441.34,326.35L439.72,323.79L438.16,321.24L436.67,318.69L435.24,316.17L433.89,313.65L432.60,311.16L431.38,308.68L430.24,306.23L429.17,303.80L428.17,301.40L427.25,299.03L426.41,296.69L425.64,294.39L424.95,292.12L424.34,289.90L423.81,287.71L423.36,285.57L422.98,283.47L422.69,281.42L422.48,279.43L422.35,277.48L422.31,276.02L422.96,276.09Z" fill="#142E46" stroke="#142E46" stroke-width="0.25" stroke-linejoin="round"/>
<path d="M461.68,408.87L459.64,409.17L457.65,409.39L455.71,409.54L453.81,409.61L451.96,409.60L450.17,409.52L448.43,409.36L446.74,409.12L445.11,408.81L443.54,408.42L442.03,407.96L440.58,407.42L439.20,406.80L437.87,406.12L436.62,405.35L435.43,404.52L434.31,403.61L433.26,402.64L432.28,401.59L431.36,400.48L430.53,399.29L429.76,398.04L429.07,396.73L428.45,395.35L427.91,393.90L427.45,392.40L427.05,390.84L426.74,389.22L426.50,387.54L426.34,385.80L426.26,384.02L426.25,382.18L426.32,380.29L426.47,378.35L426.70,376.37L427.00,374.35L427.38,372.28L427.83,370.17L428.36,368.02L428.97,365.84L429.65,363.63L430.40,361.38L431.23,359.10L432.12,356.80L433.09,354.47L434.14,352.12L435.24,349.75L436.42,347.37L437.67,344.96L438.98,342.55L440.36,340.12L441.79,337.68L443.30,335.24L444.86,332.80L445.26,332.19L446.57,334.05L448.42,336.62L450.34,339.18L452.31,341.73L454.33,344.28L456.40,346.81L458.51,349.33L460.68,351.83L462.88,354.31L465.13,356.77L467.41,359.20L469.73,361.61L472.09,363.98L473.64,365.50L473.32,366.15L472.09,368.87L470.93,371.57L469.84,374.27L468.84,376.96L467.91,379.63L467.07,382.28L466.31,384.92L465.64,387.53L465.04,390.12L464.53,392.68L464.11,395.21L463.77,397.70L463.51,400.16L463.34,402.59L463.26,404.97L463.26,407.31L463.31,408.57Z" fill="#183550" stroke="#183550" stroke-width="0.25" stroke-linejoin="round"/>
<path d="M545.38,411.86L545.12,414.06L544.77,416.21L544.35,418.31L543.83,420.35L543.23,422.34L542.55,424.26L541.79,426.12L540.94,427.92L540.01,429.66L539.01,431.33L537.92,432.93L536.75,434.46L535.51,435.92L534.19,437.30L532.80,438.61L531.34,439.85L529.80,441.01L528.19,442.09L526.51,443.10L524.77,444.02L522.96,444.86L521.09,445.62L519.16,446.30L517.16,446.90L515.11,447.41L513.01,447.84L510.85,448.18L508.64,448.44L506.37,448.61L504.45,448.68L502.53,448.61L500.26,448.44L498.05,448.18L495.89,447.84L493.79,447.41L491.74,446.90L489.74,446.30L487.81,445.62L485.94,444.86L484.13,444.02L482.39,443.10L480.71,442.09L479.10,441.01L477.56,439.85L476.10,438.61L474.71,437.30L473.39,435.92L472.15,434.46L470.98,432.93L469.89,431.33L468.89,429.66L467.96,427.92L467.11,426.12L466.35,424.26L465.67,422.34L465.07,420.35L464.55,418.31L464.13,416.21L463.78,414.06L463.52,411.86L463.35,409.61L463.31,408.57L463.76,408.49L465.87,408.04L468.03,407.51L470.22,406.91L472.45,406.23L474.70,405.48L476.99,404.66L479.30,403.76L481.64,402.80L484.00,401.76L486.38,400.66L488.78,399.49L491.20,398.25L493.63,396.94L496.06,395.57L498.51,394.14L500.96,392.65L503.42,391.09L504.03,390.69L504.74,391.18L507.32,392.92L509.90,394.60L512.47,396.21L515.03,397.76L517.59,399.24L520.13,400.66L522.65,402.01L525.16,403.29L527.65,404.50L530.11,405.64L532.55,406.70L534.96,407.70L537.34,408.61L539.69,409.45L542.00,410.22L544.28,410.90L545.43,411.22Z" fill="#1B3B58" stroke="#1B3B58" stroke-width="0.25" stroke-linejoin="round"/>
<path d="M476.62,295.17L478.93,293.03L481.27,290.93L483.62,288.87L486.00,286.85L488.40,284.88L490.81,282.95L493.24,281.07L495.67,279.24L498.12,277.46L500.57,275.73L503.03,274.06L504.87,272.85L506.74,274.15L509.32,276.00L511.89,277.91L514.46,279.87L517.02,281.88L519.56,283.94L522.09,286.05L524.60,288.20L527.09,290.39L529.56,292.63L532.01,294.90L534.16,296.96L532.51,298.07L529.85,299.93L527.20,301.85L524.58,303.83L521.98,305.87L519.41,307.96L516.87,310.11L514.36,312.31L511.89,314.56L509.46,316.85L507.07,319.19L504.72,321.57L504.45,321.85L504.18,321.57L501.83,319.19L499.44,316.85L497.01,314.56L494.54,312.31L492.03,310.11L489.49,307.96L486.92,305.87L484.32,303.83L481.70,301.85L479.05,299.93L476.39,298.07L474.74,296.97Z" fill="#16324C" stroke="#16324C" stroke-width="0.25" stroke-linejoin="round"/>
<path d="M564.14,332.06L565.88,334.63L567.56,337.19L569.18,339.75L570.74,342.31L572.23,344.85L573.66,347.38L575.01,349.89L576.30,352.39L577.52,354.86L578.66,357.31L579.73,359.74L580.73,362.14L581.65,364.51L582.49,366.85L583.26,369.15L583.95,371.42L584.56,373.64L585.09,375.83L585.54,377.97L585.92,380.07L586.21,382.12L586.42,384.12L586.55,386.06L586.60,387.96L586.57,389.80L586.46,391.58L586.26,393.30L585.99,394.96L585.63,396.56L585.20,398.10L584.68,399.57L584.09,400.97L583.42,402.30L582.67,403.57L581.84,404.76L580.94,405.88L579.96,406.93L578.90,407.91L577.78,408.81L576.58,409.63L575.31,410.38L573.97,411.05L572.56,411.64L571.08,412.15L569.54,412.58L567.93,412.94L566.26,413.21L564.53,413.40L562.74,413.51L560.90,413.54L558.99,413.49L557.04,413.36L555.03,413.15L552.97,412.86L550.86,412.49L548.71,412.04L546.52,411.51L545.43,411.22L545.55,409.61L545.64,407.31L545.64,404.97L545.56,402.59L545.39,400.16L545.13,397.70L544.79,395.21L544.37,392.68L543.86,390.12L543.26,387.53L542.59,384.92L541.83,382.28L540.99,379.63L540.06,376.96L539.06,374.27L537.97,371.57L536.81,368.87L535.58,366.15L535.26,365.50L536.81,363.98L539.03,361.74L541.22,359.47L543.37,357.17L545.48,354.85L547.55,352.50L549.58,350.13L551.56,347.75L553.50,345.35L555.39,342.93L557.23,340.51L559.01,338.07L560.75,335.63L562.42,333.19L563.64,331.35Z" fill="#152E47" stroke="#152E47" stroke-width="0.25" stroke-linejoin="round"/>
<path d="M582.64,279.53L582.65,281.36L582.58,283.25L582.43,285.19L582.20,287.17L581.90,289.20L581.52,291.26L581.07,293.37L580.54,295.52L579.93,297.70L579.25,299.92L578.50,302.16L577.67,304.44L576.78,306.74L575.81,309.07L574.76,311.42L573.66,313.79L572.48,316.18L571.23,318.58L569.92,321.00L568.54,323.42L567.11,325.86L565.60,328.30L564.04,330.74L563.64,331.35L562.33,329.49L560.48,326.92L558.56,324.36L556.59,321.81L554.57,319.26L552.50,316.73L550.39,314.21L548.22,311.71L546.02,309.23L543.77,306.78L541.49,304.34L539.17,301.94L536.81,299.56L534.42,297.21L534.16,296.96L535.20,296.27L537.89,294.54L540.60,292.87L543.32,291.28L546.05,289.75L548.78,288.29L551.51,286.91L554.24,285.60L556.97,284.37L559.69,283.21L562.40,282.14L565.10,281.14L567.78,280.22L570.45,279.38L573.10,278.62L575.72,277.95L578.32,277.36L580.89,276.85L582.45,276.59L582.56,277.74Z" fill="#142E47" stroke="#142E47" stroke-width="0.25" stroke-linejoin="round"/>
<path d="M479.05,299.93L481.70,301.85L484.32,303.83L486.92,305.87L489.49,307.96L492.03,310.11L494.54,312.31L497.01,314.56L499.44,316.85L501.83,319.19L504.18,321.57L504.45,321.85L502.41,324.00L500.15,326.46L497.94,328.95L495.79,331.48L493.68,334.04L491.63,336.62L489.64,339.23L487.71,341.87L485.85,344.52L484.04,347.19L482.30,349.88L480.63,352.57L479.02,355.28L477.49,358.00L476.03,360.71L474.64,363.43L473.64,365.50L472.09,363.98L469.73,361.61L467.41,359.20L465.13,356.77L462.88,354.31L460.68,351.83L458.51,349.33L456.40,346.81L454.33,344.28L452.31,341.73L450.34,339.18L448.42,336.62L446.57,334.05L445.26,332.19L446.48,330.35L448.15,327.91L449.89,325.47L451.67,323.03L453.51,320.61L455.40,318.19L457.34,315.79L459.32,313.41L461.35,311.04L463.42,308.69L465.53,306.37L467.68,304.07L469.87,301.80L472.09,299.56L474.34,297.35L474.74,296.97L476.39,298.07Z" fill="#132B43" stroke="#132B43" stroke-width="0.25" stroke-linejoin="round"/>
<path d="M535.58,366.15L536.81,368.87L537.97,371.57L539.06,374.27L540.06,376.96L540.99,379.63L541.83,382.28L542.59,384.92L543.26,387.53L543.86,390.12L544.37,392.68L544.79,395.21L545.13,397.70L545.39,400.16L545.56,402.59L545.64,404.97L545.64,407.31L545.55,409.61L545.43,411.22L544.28,410.90L542.00,410.22L539.69,409.45L537.34,408.61L534.96,407.70L532.55,406.70L530.11,405.64L527.65,404.50L525.16,403.29L522.65,402.01L520.13,400.66L517.59,399.24L515.03,397.76L512.47,396.21L509.90,394.60L507.32,392.92L504.74,391.18L504.03,390.69L505.87,389.48L508.33,387.81L510.78,386.08L513.23,384.31L515.66,382.48L518.09,380.60L520.50,378.67L522.90,376.69L525.28,374.67L527.63,372.61L529.97,370.51L532.28,368.37L534.56,366.19L535.26,365.50Z" fill="#132B43" stroke="#132B43" stroke-width="0.25" stroke-linejoin="round"/>
<path d="M503.42,391.09L500.96,392.65L498.51,394.14L496.06,395.57L493.63,396.94L491.20,398.25L488.78,399.49L486.38,400.66L484.00,401.76L481.64,402.80L479.30,403.76L476.99,404.66L474.70,405.48L472.45,406.23L470.22,406.91L468.03,407.51L465.87,408.04L463.76,408.49L463.31,408.57L463.26,407.31L463.26,404.97L463.34,402.59L463.51,400.16L463.77,397.70L464.11,395.21L464.53,392.68L465.04,390.12L465.64,387.53L466.31,384.92L467.07,382.28L467.91,379.63L468.84,376.96L469.84,374.27L470.93,371.57L472.09,368.87L473.32,366.15L473.64,365.50L474.48,366.33L476.89,368.64L479.34,370.91L481.81,373.15L484.30,375.34L486.81,377.50L489.34,379.60L491.88,381.66L494.44,383.67L497.01,385.63L499.58,387.54L502.16,389.39L504.03,390.69Z" fill="#152E47" stroke="#152E47" stroke-width="0.25" stroke-linejoin="round"/>
<path d="M504.72,321.57L507.07,319.19L509.46,316.85L511.89,314.56L514.36,312.31L516.87,310.11L519.41,307.96L521.98,305.87L524.58,303.83L527.20,301.85L529.85,299.93L532.51,298.07L534.16,296.96L534.42,297.21L536.81,299.56L539.17,301.94L541.49,304.34L543.77,306.78L546.02,309.23L548.22,311.71L550.39,314.21L552.50,316.73L554.57,319.26L556.59,321.81L558.56,324.36L560.48,326.92L562.33,329.49L563.64,331.35L562.42,333.19L560.75,335.63L559.01,338.07L557.23,340.51L555.39,342.93L553.50,345.35L551.56,347.75L549.58,350.13L547.55,352.50L545.48,354.85L543.37,357.17L541.22,359.47L539.03,361.74L536.81,363.98L535.26,365.50L534.26,363.43L532.87,360.71L531.41,358.00L529.88,355.28L528.27,352.57L526.60,349.88L524.86,347.19L523.05,344.52L521.19,341.87L519.26,339.23L517.27,336.62L515.22,334.04L513.11,331.48L510.96,328.95L508.75,326.46L506.49,324.00L504.45,321.85Z" fill="#132B43" stroke="#132B43" stroke-width="0.25" stroke-linejoin="round"/>
<path d="M506.49,324.00L508.75,326.46L510.96,328.95L513.11,331.48L515.22,334.04L517.27,336.62L519.26,339.23L521.19,341.87L523.05,344.52L524.86,347.19L526.60,349.88L528.27,352.57L529.88,355.28L531.41,358.00L532.87,360.71L534.26,363.43L535.26,365.50L534.56,366.19L532.28,368.37L529.97,370.51L527.63,372.61L525.28,374.67L522.90,376.69L520.50,378.67L518.09,380.60L515.66,382.48L513.23,384.31L510.78,386.08L508.33,387.81L505.87,389.48L504.03,390.69L502.16,389.39L499.58,387.54L497.01,385.63L494.44,383.67L491.88,381.66L489.34,379.60L486.81,377.50L484.30,375.34L481.81,373.15L479.34,370.91L476.89,368.64L474.48,366.33L473.64,365.50L474.64,363.43L476.03,360.71L477.49,358.00L479.02,355.28L480.63,352.57L482.30,349.88L484.04,347.19L485.85,344.52L487.71,341.87L489.64,339.23L491.63,336.62L493.68,334.04L495.79,331.48L497.94,328.95L500.15,326.46L502.41,324.00L504.45,321.85Z" fill="#132B43" stroke="#132B43" stroke-width="0.25" stroke-linejoin="round"/>
<path d="M383.18,286.98L381.86,288.37L380.62,289.82L379.45,291.35L378.36,292.95L377.36,294.62L376.43,296.36L375.58,298.16L374.82,300.02L374.14,301.95L373.54,303.93L373.02,305.97L372.60,308.07L372.25,310.22L371.99,312.42L371.82,314.67L371.73,316.97L371.73,319.31L371.81,321.69L371.98,324.12L372.24,326.58L372.58,329.08L373.00,331.60L373.51,334.16L374.11,336.75L374.78,339.36L375.54,342.00L376.38,344.65L377.31,347.32L378.31,350.01L379.40,352.71L380.56,355.42L381.79,358.13L383.11,360.85L384.50,363.57L385.96,366.29L387.49,369.00L389.10,371.71L390.77,374.41L392.51,377.09L394.32,379.76L396.18,382.42L398.11,385.05L400.10,387.66L402.15,390.25L404.26,392.80L406.41,395.33L408.62,397.83L410.88,400.29L413.19,402.71L415.54,405.09L417.93,407.43L420.36,409.73L422.83,411.97L425.34,414.17L427.88,416.32L430.45,418.41L433.05,420.45L435.67,422.43L438.32,424.35L440.98,426.21L443.67,428.01L446.36,429.74L449.07,431.41L451.79,433.01L454.52,434.53L457.25,435.99L459.98,437.37L462.71,438.68L465.44,439.91L468.16,441.07L470.87,442.15L473.57,443.14L476.25,444.06L478.92,444.90L481.57,445.66L484.19,446.33L486.79,446.92L489.36,447.43L491.90,447.85L494.41,448.19L496.88,448.45L499.32,448.62L501.71,448.70L504.07,448.70L506.37,448.61L508.64,448.44L510.85,448.18L513.01,447.84L515.11,447.41L517.16,446.90L519.16,446.30L521.09,445.62L522.96,444.86L524.77,444.02L526.51,443.10L528.19,442.09L529.80,441.01L531.34,439.85L532.80,438.61L534.19,437.30L535.51,435.92L536.75,434.46L537.92,432.93L539.01,431.33L540.01,429.66L540.94,427.92L541.79,426.12L542.55,424.26L543.23,422.34L543.83,420.35L544.35,418.31L544.77,416.21L545.12,414.06L545.38,411.86L545.55,409.61L545.64,407.31L545.64,404.97L545.56,402.59L545.39,400.16L545.13,397.70L544.79,395.21L544.37,392.68L543.86,390.12L543.26,387.53L542.59,384.92L541.83,382.28L540.99,379.63L540.06,376.96L539.06,374.27L537.97,371.57L536.81,368.87L535.58,366.15L534.26,363.43L532.87,360.71L531.41,358.00L529.88,355.28L528.27,352.57L526.60,349.88L524.86,347.19L523.05,344.52L521.19,341.87L519.26,339.23L517.27,336.62L515.22,334.04L513.11,331.48L510.96,328.95L508.75,326.46L506.49,324.00L504.18,321.57L501.83,319.19L499.44,316.85L497.01,314.56L494.54,312.31L492.03,310.11L489.49,307.96L486.92,305.87L484.32,303.83L481.70,301.85L479.05,299.93L476.39,298.07L473.70,296.27L471.01,294.54L468.30,292.87L465.58,291.28L462.85,289.75L460.12,288.29L457.39,286.91L454.66,285.60L451.93,284.37L449.21,283.21L446.50,282.14L443.80,281.14L441.12,280.22L438.45,279.38L435.80,278.62L433.18,277.95L430.58,277.36L428.01,276.85L425.47,276.43L422.96,276.09L420.49,275.83L418.05,275.67L415.66,275.58L413.30,275.58L411.00,275.67L408.73,275.85L406.52,276.10L404.36,276.45L402.26,276.87L400.21,277.39L398.21,277.98L396.28,278.66L394.41,279.42L392.60,280.26L390.86,281.19L389.18,282.19L387.57,283.27L386.03,284.43L384.57,285.67Z" fill="none" stroke="#000" stroke-width="0.75" stroke-linejoin="round"/>
<path d="M428.94,256.61L427.96,257.66L427.06,258.78L426.23,259.97L425.48,261.24L424.81,262.57L424.22,263.98L423.70,265.45L423.27,266.98L422.91,268.58L422.64,270.24L422.44,271.96L422.33,273.75L422.30,275.58L422.35,277.48L422.48,279.43L422.69,281.42L422.98,283.47L423.36,285.57L423.81,287.71L424.34,289.90L424.95,292.12L425.64,294.39L426.41,296.69L427.25,299.03L428.17,301.40L429.17,303.80L430.24,306.23L431.38,308.68L432.60,311.16L433.89,313.65L435.24,316.17L436.67,318.69L438.16,321.24L439.72,323.79L441.34,326.35L443.02,328.92L444.76,331.48L446.57,334.05L448.42,336.62L450.34,339.18L452.31,341.73L454.33,344.28L456.40,346.81L458.51,349.33L460.68,351.83L462.88,354.31L465.13,356.77L467.41,359.20L469.73,361.61L472.09,363.98L474.48,366.33L476.89,368.64L479.34,370.91L481.81,373.15L484.30,375.34L486.81,377.50L489.34,379.60L491.88,381.66L494.44,383.67L497.01,385.63L499.58,387.54L502.16,389.39L504.74,391.18L507.32,392.92L509.90,394.60L512.47,396.21L515.03,397.76L517.59,399.24L520.13,400.66L522.65,402.01L525.16,403.29L527.65,404.50L530.11,405.64L532.55,406.70L534.96,407.70L537.34,408.61L539.69,409.45L542.00,410.22L544.28,410.90L546.52,411.51L548.71,412.04L550.86,412.49L552.97,412.86L555.03,413.15L557.04,413.36L558.99,413.49L560.90,413.54L562.74,413.51L564.53,413.40L566.26,413.21L567.93,412.94L569.54,412.58L571.08,412.15L572.56,411.64L573.97,411.05L575.31,410.38L576.58,409.63L577.78,408.81L578.90,407.91L579.96,406.93L580.94,405.88L581.84,404.76L582.67,403.57L583.42,402.30L584.09,400.97L584.68,399.57L585.20,398.10L585.63,396.56L585.99,394.96L586.26,393.30L586.46,391.58L586.57,389.80L586.60,387.96L586.55,386.06L586.42,384.12L586.21,382.12L585.92,380.07L585.54,377.97L585.09,375.83L584.56,373.64L583.95,371.42L583.26,369.15L582.49,366.85L581.65,364.51L580.73,362.14L579.73,359.74L578.66,357.31L577.52,354.86L576.30,352.39L575.01,349.89L573.66,347.38L572.23,344.85L570.74,342.31L569.18,339.75L567.56,337.19L565.88,334.63L564.14,332.06L562.33,329.49L560.48,326.92L558.56,324.36L556.59,321.81L554.57,319.26L552.50,316.73L550.39,314.21L548.22,311.71L546.02,309.23L543.77,306.78L541.49,304.34L539.17,301.94L536.81,299.56L534.42,297.21L532.01,294.90L529.56,292.63L527.09,290.39L524.60,288.20L522.09,286.05L519.56,283.94L517.02,281.88L514.46,279.87L511.89,277.91L509.32,276.00L506.74,274.15L504.16,272.36L501.58,270.62L499.00,268.95L496.43,267.33L493.87,265.78L491.31,264.30L488.77,262.88L486.25,261.53L483.74,260.25L481.25,259.04L478.79,257.90L476.35,256.84L473.94,255.85L471.56,254.93L469.21,254.09L466.90,253.32L464.62,252.64L462.38,252.03L460.19,251.50L458.04,251.05L455.93,250.68L453.87,250.39L451.86,250.18L449.91,250.05L448.00,250.00L446.16,250.03L444.37,250.14L442.64,250.33L440.97,250.61L439.36,250.96L437.82,251.39L436.34,251.90L434.93,252.50L433.59,253.16L432.32,253.91L431.12,254.73L430.00,255.63Z" fill="none" stroke="#000" stroke-width="0.75" stroke-linejoin="round"/>
<path d="M575.64,260.90L574.59,259.93L573.47,259.02L572.28,258.19L571.03,257.43L569.70,256.74L568.32,256.12L566.87,255.58L565.36,255.12L563.79,254.73L562.16,254.42L560.47,254.18L558.73,254.02L556.94,253.94L555.09,253.93L553.19,254.00L551.25,254.15L549.26,254.38L547.22,254.68L545.14,255.05L543.03,255.50L540.87,256.03L538.68,256.63L536.45,257.31L534.20,258.06L531.91,258.88L529.60,259.78L527.26,260.74L524.90,261.78L522.52,262.88L520.12,264.06L517.70,265.30L515.27,266.60L512.84,267.97L510.39,269.40L507.94,270.90L505.48,272.45L503.03,274.06L500.57,275.73L498.12,277.46L495.67,279.24L493.24,281.07L490.81,282.95L488.40,284.88L486.00,286.85L483.62,288.87L481.27,290.93L478.93,293.03L476.62,295.17L474.34,297.35L472.09,299.56L469.87,301.80L467.68,304.07L465.53,306.37L463.42,308.69L461.35,311.04L459.32,313.41L457.34,315.79L455.40,318.19L453.51,320.61L451.67,323.03L449.89,325.47L448.15,327.91L446.48,330.35L444.86,332.80L443.30,335.24L441.79,337.68L440.36,340.12L438.98,342.55L437.67,344.96L436.42,347.37L435.24,349.75L434.14,352.12L433.09,354.47L432.12,356.80L431.23,359.10L430.40,361.38L429.65,363.63L428.97,365.84L428.36,368.02L427.83,370.17L427.38,372.28L427.00,374.35L426.70,376.37L426.47,378.35L426.32,380.29L426.25,382.18L426.26,384.02L426.34,385.80L426.50,387.54L426.74,389.22L427.05,390.84L427.45,392.40L427.91,393.90L428.45,395.35L429.07,396.73L429.76,398.04L430.53,399.29L431.36,400.48L432.28,401.59L433.26,402.64L434.31,403.61L435.43,404.52L436.62,405.35L437.87,406.12L439.20,406.80L440.58,407.42L442.03,407.96L443.54,408.42L445.11,408.81L446.74,409.12L448.43,409.36L450.17,409.52L451.96,409.60L453.81,409.61L455.71,409.54L457.65,409.39L459.64,409.17L461.68,408.87L463.76,408.49L465.87,408.04L468.03,407.51L470.22,406.91L472.45,406.23L474.70,405.48L476.99,404.66L479.30,403.76L481.64,402.80L484.00,401.76L486.38,400.66L488.78,399.49L491.20,398.25L493.63,396.94L496.06,395.57L498.51,394.14L500.96,392.65L503.42,391.09L505.87,389.48L508.33,387.81L510.78,386.08L513.23,384.31L515.66,382.48L518.09,380.60L520.50,378.67L522.90,376.69L525.28,374.67L527.63,372.61L529.97,370.51L532.28,368.37L534.56,366.19L536.81,363.98L539.03,361.74L541.22,359.47L543.37,357.17L545.48,354.85L547.55,352.50L549.58,350.13L551.56,347.75L553.50,345.35L555.39,342.93L557.23,340.51L559.01,338.07L560.75,335.63L562.42,333.19L564.04,330.74L565.60,328.30L567.11,325.86L568.54,323.42L569.92,321.00L571.23,318.58L572.48,316.18L573.66,313.79L574.76,311.42L575.81,309.07L576.78,306.74L577.67,304.44L578.50,302.16L579.25,299.92L579.93,297.70L580.54,295.52L581.07,293.37L581.52,291.26L581.90,289.20L582.20,287.17L582.43,285.19L582.58,283.25L582.65,281.36L582.64,279.53L582.56,277.74L582.40,276.01L582.16,274.33L581.85,272.70L581.45,271.14L580.99,269.64L580.45,268.20L579.83,266.82L579.14,265.50L578.37,264.25L577.54,263.07L576.62,261.95Z" fill="none" stroke="#000" stroke-width="0.75" stroke-linejoin="round"/>
<path d="M625.72,286.98L624.33,285.67L622.87,284.43L621.33,283.27L619.72,282.19L618.04,281.19L616.30,280.26L614.49,279.42L612.62,278.66L610.69,277.98L608.69,277.39L606.64,276.87L604.54,276.45L602.38,276.10L600.17,275.85L597.90,275.67L595.60,275.58L593.24,275.58L590.85,275.67L588.41,275.83L585.94,276.09L583.43,276.43L580.89,276.85L578.32,277.36L575.72,277.95L573.10,278.62L570.45,279.38L567.78,280.22L565.10,281.14L562.40,282.14L559.69,283.21L556.97,284.37L554.24,285.60L551.51,286.91L548.78,288.29L546.05,289.75L543.32,291.28L540.60,292.87L537.89,294.54L535.20,296.27L532.51,298.07L529.85,299.93L527.20,301.85L524.58,303.83L521.98,305.87L519.41,307.96L516.87,310.11L514.36,312.31L511.89,314.56L509.46,316.85L507.07,319.19L504.72,321.57L502.41,324.00L500.15,326.46L497.94,328.95L495.79,331.48L493.68,334.04L491.63,336.62L489.64,339.23L487.71,341.87L485.85,344.52L484.04,347.19L482.30,349.88L480.63,352.57L479.02,355.28L477.49,358.00L476.03,360.71L474.64,363.43L473.32,366.15L472.09,368.87L470.93,371.57L469.84,374.27L468.84,376.96L467.91,379.63L467.07,382.28L466.31,384.92L465.64,387.53L465.04,390.12L464.53,392.68L464.11,395.21L463.77,397.70L463.51,400.16L463.34,402.59L463.26,404.97L463.26,407.31L463.35,409.61L463.52,411.86L463.78,414.06L464.13,416.21L464.55,418.31L465.07,420.35L465.67,422.34L466.35,424.26L467.11,426.12L467.96,427.92L468.89,429.66L469.89,431.33L470.98,432.93L472.15,434.46L473.39,435.92L474.71,437.30L476.10,438.61L477.56,439.85L479.10,441.01L480.71,442.09L482.39,443.10L484.13,444.02L485.94,444.86L487.81,445.62L489.74,446.30L491.74,446.90L493.79,447.41L495.89,447.84L498.05,448.18L500.26,448.44L502.53,448.61L504.83,448.70L507.19,448.70L509.58,448.62L512.02,448.45L514.49,448.19L517.00,447.85L519.54,447.43L522.11,446.92L524.71,446.33L527.33,445.66L529.98,444.90L532.65,444.06L535.33,443.14L538.03,442.15L540.74,441.07L543.46,439.91L546.19,438.68L548.92,437.37L551.65,435.99L554.38,434.53L557.11,433.01L559.83,431.41L562.54,429.74L565.23,428.01L567.92,426.21L570.58,424.35L573.23,422.43L575.85,420.45L578.45,418.41L581.02,416.32L583.56,414.17L586.07,411.97L588.54,409.73L590.97,407.43L593.36,405.09L595.71,402.71L598.02,400.29L600.28,397.83L602.49,395.33L604.64,392.80L606.75,390.25L608.80,387.66L610.79,385.05L612.72,382.42L614.58,379.76L616.39,377.09L618.13,374.41L619.80,371.71L621.41,369.00L622.94,366.29L624.40,363.57L625.79,360.85L627.11,358.13L628.34,355.42L629.50,352.71L630.59,350.01L631.59,347.32L632.52,344.65L633.36,342.00L634.12,339.36L634.79,336.75L635.39,334.16L635.90,331.60L636.32,329.08L636.66,326.58L636.92,324.12L637.09,321.69L637.17,319.31L637.17,316.97L637.08,314.67L636.91,312.42L636.65,310.22L636.30,308.07L635.88,305.97L635.36,303.93L634.76,301.95L634.08,300.02L633.32,298.16L632.47,296.36L631.54,294.62L630.54,292.95L629.45,291.35L628.28,289.82L627.04,288.37Z" fill="none" stroke="#000" stroke-width="0.75" stroke-linejoin="round"/>
<g font-size="6.90" fill="#fff" fill-opacity="0.88" text-anchor="middle">
<text x="413.03" y="346.22" transform="rotate(.03 413.03 346.22)">571</text><text x="413.03" y="353.52" transform="rotate(.03 413.03 353.52)">(23%)</text>
<text x="461.23" y="269.59" transform="rotate(.03 461.23 269.59)">420</text><text x="461.23" y="276.89" transform="rotate(.03 461.23 276.89)">(17%)</text>
<text x="545.16" y="271.47" transform="rotate(.03 545.16 271.47)">618</text><text x="545.16" y="278.77" transform="rotate(.03 545.16 278.77)">(25%)</text>
<text x="596.76" y="342.94" transform="rotate(.03 596.76 342.94)">645</text><text x="596.76" y="350.24" transform="rotate(.03 596.76 350.24)">(26%)</text>
<text x="445.39" y="299.17" transform="rotate(.03 445.39 299.17)">15</text><text x="445.39" y="306.47" transform="rotate(.03 445.39 306.47)">(1%)</text>
<text x="448.03" y="374.63" transform="rotate(.03 448.03 374.63)">53</text><text x="448.03" y="381.93" transform="rotate(.03 448.03 381.93)">(2%)</text>
<text x="503.97" y="420.74" transform="rotate(.03 503.97 420.74)">86</text><text x="503.97" y="428.04" transform="rotate(.03 503.97 428.04)">(3%)</text>
<text x="504.49" y="295.41" transform="rotate(.03 504.49 295.41)">38</text><text x="504.49" y="302.71" transform="rotate(.03 504.49 302.71)">(2%)</text>
<text x="562.64" y="376.90" transform="rotate(.03 562.64 376.90)">19</text><text x="562.64" y="384.20" transform="rotate(.03 562.64 384.20)">(1%)</text>
<text x="562.20" y="299.39" transform="rotate(.03 562.20 299.39)">16</text><text x="562.20" y="306.69" transform="rotate(.03 562.20 306.69)">(1%)</text>
<text x="473.79" y="328.00" transform="rotate(.03 473.79 328.00)">3</text><text x="473.79" y="335.30" transform="rotate(.03 473.79 335.30)">(0%)</text>
<text x="529.60" y="389.17" transform="rotate(.03 529.60 389.17)">3</text><text x="529.60" y="396.47" transform="rotate(.03 529.60 396.47)">(0%)</text>
<text x="479.20" y="388.28" transform="rotate(.03 479.20 388.28)">18</text><text x="479.20" y="395.58" transform="rotate(.03 479.20 395.58)">(1%)</text>
<text x="535.11" y="327.95" transform="rotate(.03 535.11 327.95)">2</text><text x="535.11" y="335.25" transform="rotate(.03 535.11 335.25)">(0%)</text>
<text x="504.43" y="357.70" transform="rotate(.03 504.43 357.70)">1</text><text x="504.43" y="365.00" transform="rotate(.03 504.43 365.00)">(0%)</text>
</g>
<g font-size="5.05" fill="#000" text-anchor="middle">
<text x="376.31" y="270.09" transform="rotate(.03 376.31 270.09)">GSE194096a</text>
<text x="431.23" y="245.80" transform="rotate(.03 431.23 245.80)">GSE1940495b</text>
<text x="568.52" y="248.83" transform="rotate(.03 568.52 248.83)">GSE208076</text>
<text x="635.64" y="270.09" transform="rotate(.03 635.64 270.09)">GSE202182</text>
</g>
<text x="359.10" y="230.90" transform="rotate(.03 359.10 230.90)" font-size="7" fill="#000">Venn diagram of tissue samples</text>
<text x="330.60" y="234.60" transform="rotate(.03 330.60 234.60)" font-size="14.5" font-weight="bold" font-family="'Liberation Serif', serif" fill="#000">c</text>
<defs><linearGradient id="lgC" x1="0" y1="0" x2="0" y2="1"><stop offset="0.000" stop-color="#56B1F7"/><stop offset="0.050" stop-color="#52AAED"/><stop offset="0.100" stop-color="#4FA2E3"/><stop offset="0.150" stop-color="#4B9BDA"/><stop offset="0.200" stop-color="#4894D0"/><stop offset="0.250" stop-color="#448DC6"/><stop offset="0.300" stop-color="#4186BD"/><stop offset="0.350" stop-color="#3D7FB4"/><stop offset="0.400" stop-color="#3A78AA"/><stop offset="0.450" stop-color="#3671A1"/><stop offset="0.500" stop-color="#336A98"/><stop offset="0.550" stop-color="#2F638F"/><stop offset="0.600" stop-color="#2C5D86"/><stop offset="0.650" stop-color="#29567D"/><stop offset="0.700" stop-color="#265075"/><stop offset="0.750" stop-color="#22496C"/><stop offset="0.800" stop-color="#1F4364"/><stop offset="0.850" stop-color="#1C3D5B"/><stop offset="0.900" stop-color="#193753"/><stop offset="0.950" stop-color="#16314B"/><stop offset="1.000" stop-color="#132B43"/></linearGradient></defs>
<rect x="652.30" y="334.40" width="6.30" height="29.60" fill="url(#lgC)"/>
<text x="652.30" y="332.20" transform="rotate(.03 652.30 332.20)" font-size="3.8" fill="#000" stroke="#000" stroke-width="0.05">count</text>
<g font-size="4.7" fill="#000" stroke="#000" stroke-width="0.05">
<path d="M652.30,354.85h1.26M657.34,354.85h1.26" stroke="#fff" stroke-opacity="0.7" stroke-width="0.3"/>
<text x="659.95" y="356.80" transform="rotate(.03 659.95 356.80)">200</text>
<path d="M652.30,345.66h1.26M657.34,345.66h1.26" stroke="#fff" stroke-opacity="0.7" stroke-width="0.3"/>
<text x="659.95" y="347.61" transform="rotate(.03 659.95 347.61)">400</text>
<path d="M652.30,336.47h1.26M657.34,336.47h1.26" stroke="#fff" stroke-opacity="0.7" stroke-width="0.3"/>
<text x="659.95" y="338.42" transform="rotate(.03 659.95 338.42)">600</text>
</g>
</g>
</svg>
</body></html>
